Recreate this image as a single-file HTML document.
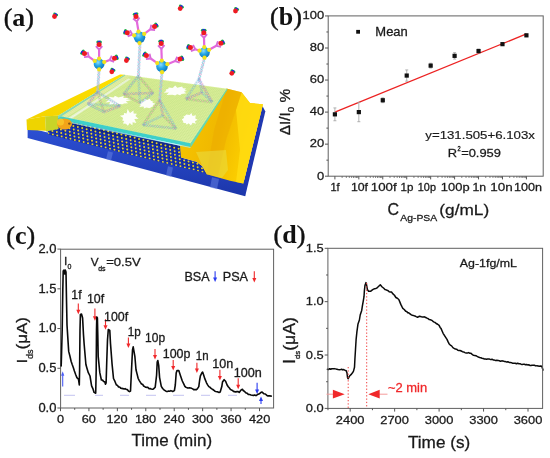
<!DOCTYPE html>
<html><head><meta charset="utf-8"><title>Figure</title>
<style>html,body{margin:0;padding:0;background:#fff;}svg{display:block;}</style></head>
<body><svg width="550" height="458" viewBox="0 0 550 458">
<rect width="550" height="458" fill="#ffffff"/>
<defs>
<linearGradient id="gBlueF" x1="0" y1="0" x2="0" y2="1"><stop offset="0" stop-color="#2d50d4"/><stop offset="1" stop-color="#1c36aa"/></linearGradient>
<linearGradient id="gGoldR" x1="0" y1="0" x2="1" y2="0.3"><stop offset="0" stop-color="#f8c800"/><stop offset="0.55" stop-color="#f0b800"/><stop offset="1" stop-color="#ffd400"/></linearGradient>
<linearGradient id="gGoldL" x1="0" y1="1" x2="1" y2="0"><stop offset="0" stop-color="#f4d400"/><stop offset="1" stop-color="#ffe000"/></linearGradient>
<linearGradient id="gGlass" x1="0" y1="0" x2="1" y2="1"><stop offset="0" stop-color="#e6f4a0"/><stop offset="0.5" stop-color="#dcf09a"/><stop offset="1" stop-color="#e2f2a6"/></linearGradient>
<radialGradient id="gSph" cx="0.4" cy="0.35" r="0.75"><stop offset="0" stop-color="#8adcff"/><stop offset="0.45" stop-color="#22a4e4"/><stop offset="1" stop-color="#0b6cb4"/></radialGradient>
<clipPath id="cDots"><polygon points="47,129 58.3,119 180.5,146.5 181.3,157.5 196.5,161.8 202.4,166.2 206.7,173.5 48.4,134.6"/></clipPath>
</defs>
<polygon points="243.0,184.5 262.5,106.0 265.3,111.5 245.2,196.3" fill="#2038b0"/>
<polygon points="27.6,127.5 244.5,181.8 245.2,196.3 27.6,137.9" fill="url(#gBlueF)"/>
<polygon points="108.0,151.2 113.0,152.4 111.0,160.6 106.0,159.2" fill="#6a86e6" opacity="0.5"/>
<polygon points="168.0,166.2 173.0,167.4 171.0,176.9 166.0,175.5" fill="#6a86e6" opacity="0.5"/>
<polygon points="212.0,177.2 219.0,178.9 217.0,189.3 210.0,187.4" fill="#6a86e6" opacity="0.5"/>
<polygon points="47.0,128.5 58.3,118.5 180.5,146.0 181.3,157.5 196.5,161.8 202.4,166.2 206.7,173.5 48.4,134.6" fill="#1a34b0"/>
<polygon points="58.3,118.5 180.5,146.0 180.5,150.5 58.3,123.0" fill="#10237e" opacity="0.65"/>
<g clip-path="url(#cDots)"><g fill="#0c1660" opacity="0.55"><circle cx="29.8" cy="129.4" r="1.0"/><circle cx="29.4" cy="125.9" r="1.0"/><circle cx="29.1" cy="122.4" r="1.0"/><circle cx="28.7" cy="118.9" r="1.0"/><circle cx="28.4" cy="115.4" r="1.0"/><circle cx="28.0" cy="111.9" r="1.0"/><circle cx="27.6" cy="108.4" r="1.0"/><circle cx="27.3" cy="104.9" r="1.0"/><circle cx="26.9" cy="101.4" r="1.0"/><circle cx="26.6" cy="97.9" r="1.0"/><circle cx="34.2" cy="130.5" r="1.0"/><circle cx="33.8" cy="127.0" r="1.0"/><circle cx="33.5" cy="123.5" r="1.0"/><circle cx="33.1" cy="120.0" r="1.0"/><circle cx="32.8" cy="116.5" r="1.0"/><circle cx="32.4" cy="113.0" r="1.0"/><circle cx="32.0" cy="109.5" r="1.0"/><circle cx="31.7" cy="106.0" r="1.0"/><circle cx="31.3" cy="102.5" r="1.0"/><circle cx="31.0" cy="99.0" r="1.0"/><circle cx="38.6" cy="131.6" r="1.0"/><circle cx="38.2" cy="128.1" r="1.0"/><circle cx="37.9" cy="124.6" r="1.0"/><circle cx="37.5" cy="121.1" r="1.0"/><circle cx="37.2" cy="117.6" r="1.0"/><circle cx="36.8" cy="114.1" r="1.0"/><circle cx="36.4" cy="110.6" r="1.0"/><circle cx="36.1" cy="107.1" r="1.0"/><circle cx="35.7" cy="103.6" r="1.0"/><circle cx="35.4" cy="100.1" r="1.0"/><circle cx="43.0" cy="132.7" r="1.0"/><circle cx="42.6" cy="129.2" r="1.0"/><circle cx="42.3" cy="125.7" r="1.0"/><circle cx="41.9" cy="122.2" r="1.0"/><circle cx="41.6" cy="118.7" r="1.0"/><circle cx="41.2" cy="115.2" r="1.0"/><circle cx="40.8" cy="111.7" r="1.0"/><circle cx="40.5" cy="108.2" r="1.0"/><circle cx="40.1" cy="104.7" r="1.0"/><circle cx="39.8" cy="101.2" r="1.0"/><circle cx="47.4" cy="133.8" r="1.0"/><circle cx="47.0" cy="130.3" r="1.0"/><circle cx="46.7" cy="126.8" r="1.0"/><circle cx="46.3" cy="123.3" r="1.0"/><circle cx="46.0" cy="119.8" r="1.0"/><circle cx="45.6" cy="116.3" r="1.0"/><circle cx="45.2" cy="112.8" r="1.0"/><circle cx="44.9" cy="109.3" r="1.0"/><circle cx="44.5" cy="105.8" r="1.0"/><circle cx="44.2" cy="102.3" r="1.0"/><circle cx="51.8" cy="134.9" r="1.0"/><circle cx="51.4" cy="131.4" r="1.0"/><circle cx="51.1" cy="127.9" r="1.0"/><circle cx="50.7" cy="124.4" r="1.0"/><circle cx="50.4" cy="120.9" r="1.0"/><circle cx="50.0" cy="117.4" r="1.0"/><circle cx="49.6" cy="113.9" r="1.0"/><circle cx="49.3" cy="110.4" r="1.0"/><circle cx="48.9" cy="106.9" r="1.0"/><circle cx="48.6" cy="103.4" r="1.0"/><circle cx="56.2" cy="136.0" r="1.0"/><circle cx="55.8" cy="132.5" r="1.0"/><circle cx="55.5" cy="129.0" r="1.0"/><circle cx="55.1" cy="125.5" r="1.0"/><circle cx="54.8" cy="122.0" r="1.0"/><circle cx="54.4" cy="118.5" r="1.0"/><circle cx="54.0" cy="115.0" r="1.0"/><circle cx="53.7" cy="111.5" r="1.0"/><circle cx="53.3" cy="108.0" r="1.0"/><circle cx="53.0" cy="104.5" r="1.0"/><circle cx="60.6" cy="137.1" r="1.0"/><circle cx="60.2" cy="133.6" r="1.0"/><circle cx="59.9" cy="130.1" r="1.0"/><circle cx="59.5" cy="126.6" r="1.0"/><circle cx="59.2" cy="123.1" r="1.0"/><circle cx="58.8" cy="119.6" r="1.0"/><circle cx="58.4" cy="116.1" r="1.0"/><circle cx="58.1" cy="112.6" r="1.0"/><circle cx="57.7" cy="109.1" r="1.0"/><circle cx="57.4" cy="105.6" r="1.0"/><circle cx="65.0" cy="138.2" r="1.0"/><circle cx="64.6" cy="134.7" r="1.0"/><circle cx="64.3" cy="131.2" r="1.0"/><circle cx="63.9" cy="127.7" r="1.0"/><circle cx="63.6" cy="124.2" r="1.0"/><circle cx="63.2" cy="120.7" r="1.0"/><circle cx="62.8" cy="117.2" r="1.0"/><circle cx="62.5" cy="113.7" r="1.0"/><circle cx="62.1" cy="110.2" r="1.0"/><circle cx="61.8" cy="106.7" r="1.0"/><circle cx="69.4" cy="139.3" r="1.0"/><circle cx="69.0" cy="135.8" r="1.0"/><circle cx="68.7" cy="132.3" r="1.0"/><circle cx="68.3" cy="128.8" r="1.0"/><circle cx="68.0" cy="125.3" r="1.0"/><circle cx="67.6" cy="121.8" r="1.0"/><circle cx="67.2" cy="118.3" r="1.0"/><circle cx="66.9" cy="114.8" r="1.0"/><circle cx="66.5" cy="111.3" r="1.0"/><circle cx="66.2" cy="107.8" r="1.0"/><circle cx="73.8" cy="140.4" r="1.0"/><circle cx="73.4" cy="136.9" r="1.0"/><circle cx="73.1" cy="133.4" r="1.0"/><circle cx="72.7" cy="129.9" r="1.0"/><circle cx="72.4" cy="126.4" r="1.0"/><circle cx="72.0" cy="122.9" r="1.0"/><circle cx="71.6" cy="119.4" r="1.0"/><circle cx="71.3" cy="115.9" r="1.0"/><circle cx="70.9" cy="112.4" r="1.0"/><circle cx="70.6" cy="108.9" r="1.0"/><circle cx="78.2" cy="141.5" r="1.0"/><circle cx="77.8" cy="138.0" r="1.0"/><circle cx="77.5" cy="134.5" r="1.0"/><circle cx="77.1" cy="131.0" r="1.0"/><circle cx="76.8" cy="127.5" r="1.0"/><circle cx="76.4" cy="124.0" r="1.0"/><circle cx="76.0" cy="120.5" r="1.0"/><circle cx="75.7" cy="117.0" r="1.0"/><circle cx="75.3" cy="113.5" r="1.0"/><circle cx="75.0" cy="110.0" r="1.0"/><circle cx="82.6" cy="142.6" r="1.0"/><circle cx="82.2" cy="139.1" r="1.0"/><circle cx="81.9" cy="135.6" r="1.0"/><circle cx="81.5" cy="132.1" r="1.0"/><circle cx="81.2" cy="128.6" r="1.0"/><circle cx="80.8" cy="125.1" r="1.0"/><circle cx="80.4" cy="121.6" r="1.0"/><circle cx="80.1" cy="118.1" r="1.0"/><circle cx="79.7" cy="114.6" r="1.0"/><circle cx="79.4" cy="111.1" r="1.0"/><circle cx="87.0" cy="143.7" r="1.0"/><circle cx="86.6" cy="140.2" r="1.0"/><circle cx="86.3" cy="136.7" r="1.0"/><circle cx="85.9" cy="133.2" r="1.0"/><circle cx="85.6" cy="129.7" r="1.0"/><circle cx="85.2" cy="126.2" r="1.0"/><circle cx="84.8" cy="122.7" r="1.0"/><circle cx="84.5" cy="119.2" r="1.0"/><circle cx="84.1" cy="115.7" r="1.0"/><circle cx="83.8" cy="112.2" r="1.0"/><circle cx="91.4" cy="144.8" r="1.0"/><circle cx="91.0" cy="141.3" r="1.0"/><circle cx="90.7" cy="137.8" r="1.0"/><circle cx="90.3" cy="134.3" r="1.0"/><circle cx="90.0" cy="130.8" r="1.0"/><circle cx="89.6" cy="127.3" r="1.0"/><circle cx="89.2" cy="123.8" r="1.0"/><circle cx="88.9" cy="120.3" r="1.0"/><circle cx="88.5" cy="116.8" r="1.0"/><circle cx="88.2" cy="113.3" r="1.0"/><circle cx="95.8" cy="145.9" r="1.0"/><circle cx="95.4" cy="142.4" r="1.0"/><circle cx="95.1" cy="138.9" r="1.0"/><circle cx="94.7" cy="135.4" r="1.0"/><circle cx="94.4" cy="131.9" r="1.0"/><circle cx="94.0" cy="128.4" r="1.0"/><circle cx="93.6" cy="124.9" r="1.0"/><circle cx="93.3" cy="121.4" r="1.0"/><circle cx="92.9" cy="117.9" r="1.0"/><circle cx="92.6" cy="114.4" r="1.0"/><circle cx="100.2" cy="147.0" r="1.0"/><circle cx="99.8" cy="143.5" r="1.0"/><circle cx="99.5" cy="140.0" r="1.0"/><circle cx="99.1" cy="136.5" r="1.0"/><circle cx="98.8" cy="133.0" r="1.0"/><circle cx="98.4" cy="129.5" r="1.0"/><circle cx="98.0" cy="126.0" r="1.0"/><circle cx="97.7" cy="122.5" r="1.0"/><circle cx="97.3" cy="119.0" r="1.0"/><circle cx="97.0" cy="115.5" r="1.0"/><circle cx="104.6" cy="148.1" r="1.0"/><circle cx="104.2" cy="144.6" r="1.0"/><circle cx="103.9" cy="141.1" r="1.0"/><circle cx="103.5" cy="137.6" r="1.0"/><circle cx="103.2" cy="134.1" r="1.0"/><circle cx="102.8" cy="130.6" r="1.0"/><circle cx="102.4" cy="127.1" r="1.0"/><circle cx="102.1" cy="123.6" r="1.0"/><circle cx="101.7" cy="120.1" r="1.0"/><circle cx="101.4" cy="116.6" r="1.0"/><circle cx="109.0" cy="149.2" r="1.0"/><circle cx="108.6" cy="145.7" r="1.0"/><circle cx="108.3" cy="142.2" r="1.0"/><circle cx="107.9" cy="138.7" r="1.0"/><circle cx="107.6" cy="135.2" r="1.0"/><circle cx="107.2" cy="131.7" r="1.0"/><circle cx="106.8" cy="128.2" r="1.0"/><circle cx="106.5" cy="124.7" r="1.0"/><circle cx="106.1" cy="121.2" r="1.0"/><circle cx="105.8" cy="117.7" r="1.0"/><circle cx="113.4" cy="150.3" r="1.0"/><circle cx="113.0" cy="146.8" r="1.0"/><circle cx="112.7" cy="143.3" r="1.0"/><circle cx="112.3" cy="139.8" r="1.0"/><circle cx="112.0" cy="136.3" r="1.0"/><circle cx="111.6" cy="132.8" r="1.0"/><circle cx="111.2" cy="129.3" r="1.0"/><circle cx="110.9" cy="125.8" r="1.0"/><circle cx="110.5" cy="122.3" r="1.0"/><circle cx="110.2" cy="118.8" r="1.0"/><circle cx="117.8" cy="151.4" r="1.0"/><circle cx="117.4" cy="147.9" r="1.0"/><circle cx="117.1" cy="144.4" r="1.0"/><circle cx="116.7" cy="140.9" r="1.0"/><circle cx="116.4" cy="137.4" r="1.0"/><circle cx="116.0" cy="133.9" r="1.0"/><circle cx="115.6" cy="130.4" r="1.0"/><circle cx="115.3" cy="126.9" r="1.0"/><circle cx="114.9" cy="123.4" r="1.0"/><circle cx="114.6" cy="119.9" r="1.0"/><circle cx="122.2" cy="152.5" r="1.0"/><circle cx="121.8" cy="149.0" r="1.0"/><circle cx="121.5" cy="145.5" r="1.0"/><circle cx="121.1" cy="142.0" r="1.0"/><circle cx="120.8" cy="138.5" r="1.0"/><circle cx="120.4" cy="135.0" r="1.0"/><circle cx="120.0" cy="131.5" r="1.0"/><circle cx="119.7" cy="128.0" r="1.0"/><circle cx="119.3" cy="124.5" r="1.0"/><circle cx="119.0" cy="121.0" r="1.0"/><circle cx="126.6" cy="153.6" r="1.0"/><circle cx="126.2" cy="150.1" r="1.0"/><circle cx="125.9" cy="146.6" r="1.0"/><circle cx="125.5" cy="143.1" r="1.0"/><circle cx="125.2" cy="139.6" r="1.0"/><circle cx="124.8" cy="136.1" r="1.0"/><circle cx="124.4" cy="132.6" r="1.0"/><circle cx="124.1" cy="129.1" r="1.0"/><circle cx="123.7" cy="125.6" r="1.0"/><circle cx="123.4" cy="122.1" r="1.0"/><circle cx="131.0" cy="154.7" r="1.0"/><circle cx="130.6" cy="151.2" r="1.0"/><circle cx="130.3" cy="147.7" r="1.0"/><circle cx="129.9" cy="144.2" r="1.0"/><circle cx="129.6" cy="140.7" r="1.0"/><circle cx="129.2" cy="137.2" r="1.0"/><circle cx="128.8" cy="133.7" r="1.0"/><circle cx="128.5" cy="130.2" r="1.0"/><circle cx="128.1" cy="126.7" r="1.0"/><circle cx="127.8" cy="123.2" r="1.0"/><circle cx="135.4" cy="155.8" r="1.0"/><circle cx="135.0" cy="152.3" r="1.0"/><circle cx="134.7" cy="148.8" r="1.0"/><circle cx="134.3" cy="145.3" r="1.0"/><circle cx="134.0" cy="141.8" r="1.0"/><circle cx="133.6" cy="138.3" r="1.0"/><circle cx="133.2" cy="134.8" r="1.0"/><circle cx="132.9" cy="131.3" r="1.0"/><circle cx="132.5" cy="127.8" r="1.0"/><circle cx="132.2" cy="124.3" r="1.0"/><circle cx="139.8" cy="156.9" r="1.0"/><circle cx="139.4" cy="153.4" r="1.0"/><circle cx="139.1" cy="149.9" r="1.0"/><circle cx="138.7" cy="146.4" r="1.0"/><circle cx="138.4" cy="142.9" r="1.0"/><circle cx="138.0" cy="139.4" r="1.0"/><circle cx="137.6" cy="135.9" r="1.0"/><circle cx="137.3" cy="132.4" r="1.0"/><circle cx="136.9" cy="128.9" r="1.0"/><circle cx="136.6" cy="125.4" r="1.0"/><circle cx="144.2" cy="158.0" r="1.0"/><circle cx="143.8" cy="154.5" r="1.0"/><circle cx="143.5" cy="151.0" r="1.0"/><circle cx="143.1" cy="147.5" r="1.0"/><circle cx="142.8" cy="144.0" r="1.0"/><circle cx="142.4" cy="140.5" r="1.0"/><circle cx="142.0" cy="137.0" r="1.0"/><circle cx="141.7" cy="133.5" r="1.0"/><circle cx="141.3" cy="130.0" r="1.0"/><circle cx="141.0" cy="126.5" r="1.0"/><circle cx="148.6" cy="159.1" r="1.0"/><circle cx="148.2" cy="155.6" r="1.0"/><circle cx="147.9" cy="152.1" r="1.0"/><circle cx="147.5" cy="148.6" r="1.0"/><circle cx="147.2" cy="145.1" r="1.0"/><circle cx="146.8" cy="141.6" r="1.0"/><circle cx="146.4" cy="138.1" r="1.0"/><circle cx="146.1" cy="134.6" r="1.0"/><circle cx="145.7" cy="131.1" r="1.0"/><circle cx="145.4" cy="127.6" r="1.0"/><circle cx="153.0" cy="160.2" r="1.0"/><circle cx="152.6" cy="156.7" r="1.0"/><circle cx="152.3" cy="153.2" r="1.0"/><circle cx="151.9" cy="149.7" r="1.0"/><circle cx="151.6" cy="146.2" r="1.0"/><circle cx="151.2" cy="142.7" r="1.0"/><circle cx="150.8" cy="139.2" r="1.0"/><circle cx="150.5" cy="135.7" r="1.0"/><circle cx="150.1" cy="132.2" r="1.0"/><circle cx="149.8" cy="128.7" r="1.0"/><circle cx="157.4" cy="161.3" r="1.0"/><circle cx="157.0" cy="157.8" r="1.0"/><circle cx="156.7" cy="154.3" r="1.0"/><circle cx="156.3" cy="150.8" r="1.0"/><circle cx="156.0" cy="147.3" r="1.0"/><circle cx="155.6" cy="143.8" r="1.0"/><circle cx="155.2" cy="140.3" r="1.0"/><circle cx="154.9" cy="136.8" r="1.0"/><circle cx="154.5" cy="133.3" r="1.0"/><circle cx="154.2" cy="129.8" r="1.0"/><circle cx="161.8" cy="162.4" r="1.0"/><circle cx="161.4" cy="158.9" r="1.0"/><circle cx="161.1" cy="155.4" r="1.0"/><circle cx="160.7" cy="151.9" r="1.0"/><circle cx="160.4" cy="148.4" r="1.0"/><circle cx="160.0" cy="144.9" r="1.0"/><circle cx="159.6" cy="141.4" r="1.0"/><circle cx="159.3" cy="137.9" r="1.0"/><circle cx="158.9" cy="134.4" r="1.0"/><circle cx="158.6" cy="130.9" r="1.0"/><circle cx="166.2" cy="163.5" r="1.0"/><circle cx="165.8" cy="160.0" r="1.0"/><circle cx="165.5" cy="156.5" r="1.0"/><circle cx="165.1" cy="153.0" r="1.0"/><circle cx="164.8" cy="149.5" r="1.0"/><circle cx="164.4" cy="146.0" r="1.0"/><circle cx="164.0" cy="142.5" r="1.0"/><circle cx="163.7" cy="139.0" r="1.0"/><circle cx="163.3" cy="135.5" r="1.0"/><circle cx="163.0" cy="132.0" r="1.0"/><circle cx="170.6" cy="164.6" r="1.0"/><circle cx="170.2" cy="161.1" r="1.0"/><circle cx="169.9" cy="157.6" r="1.0"/><circle cx="169.5" cy="154.1" r="1.0"/><circle cx="169.2" cy="150.6" r="1.0"/><circle cx="168.8" cy="147.1" r="1.0"/><circle cx="168.4" cy="143.6" r="1.0"/><circle cx="168.1" cy="140.1" r="1.0"/><circle cx="167.7" cy="136.6" r="1.0"/><circle cx="167.4" cy="133.1" r="1.0"/><circle cx="175.0" cy="165.7" r="1.0"/><circle cx="174.6" cy="162.2" r="1.0"/><circle cx="174.3" cy="158.7" r="1.0"/><circle cx="173.9" cy="155.2" r="1.0"/><circle cx="173.6" cy="151.7" r="1.0"/><circle cx="173.2" cy="148.2" r="1.0"/><circle cx="172.8" cy="144.7" r="1.0"/><circle cx="172.5" cy="141.2" r="1.0"/><circle cx="172.1" cy="137.7" r="1.0"/><circle cx="171.8" cy="134.2" r="1.0"/><circle cx="179.4" cy="166.8" r="1.0"/><circle cx="179.0" cy="163.3" r="1.0"/><circle cx="178.7" cy="159.8" r="1.0"/><circle cx="178.3" cy="156.3" r="1.0"/><circle cx="178.0" cy="152.8" r="1.0"/><circle cx="177.6" cy="149.3" r="1.0"/><circle cx="177.2" cy="145.8" r="1.0"/><circle cx="176.9" cy="142.3" r="1.0"/><circle cx="176.5" cy="138.8" r="1.0"/><circle cx="176.2" cy="135.3" r="1.0"/><circle cx="183.8" cy="167.9" r="1.0"/><circle cx="183.4" cy="164.4" r="1.0"/><circle cx="183.1" cy="160.9" r="1.0"/><circle cx="182.7" cy="157.4" r="1.0"/><circle cx="182.4" cy="153.9" r="1.0"/><circle cx="182.0" cy="150.4" r="1.0"/><circle cx="181.6" cy="146.9" r="1.0"/><circle cx="181.3" cy="143.4" r="1.0"/><circle cx="180.9" cy="139.9" r="1.0"/><circle cx="180.6" cy="136.4" r="1.0"/><circle cx="188.2" cy="169.0" r="1.0"/><circle cx="187.8" cy="165.5" r="1.0"/><circle cx="187.5" cy="162.0" r="1.0"/><circle cx="187.1" cy="158.5" r="1.0"/><circle cx="186.8" cy="155.0" r="1.0"/><circle cx="186.4" cy="151.5" r="1.0"/><circle cx="186.0" cy="148.0" r="1.0"/><circle cx="185.7" cy="144.5" r="1.0"/><circle cx="185.3" cy="141.0" r="1.0"/><circle cx="185.0" cy="137.5" r="1.0"/><circle cx="192.6" cy="170.1" r="1.0"/><circle cx="192.2" cy="166.6" r="1.0"/><circle cx="191.9" cy="163.1" r="1.0"/><circle cx="191.5" cy="159.6" r="1.0"/><circle cx="191.2" cy="156.1" r="1.0"/><circle cx="190.8" cy="152.6" r="1.0"/><circle cx="190.4" cy="149.1" r="1.0"/><circle cx="190.1" cy="145.6" r="1.0"/><circle cx="189.7" cy="142.1" r="1.0"/><circle cx="189.4" cy="138.6" r="1.0"/><circle cx="197.0" cy="171.2" r="1.0"/><circle cx="196.6" cy="167.7" r="1.0"/><circle cx="196.3" cy="164.2" r="1.0"/><circle cx="195.9" cy="160.7" r="1.0"/><circle cx="195.6" cy="157.2" r="1.0"/><circle cx="195.2" cy="153.7" r="1.0"/><circle cx="194.8" cy="150.2" r="1.0"/><circle cx="194.5" cy="146.7" r="1.0"/><circle cx="194.1" cy="143.2" r="1.0"/><circle cx="193.8" cy="139.7" r="1.0"/><circle cx="201.4" cy="172.3" r="1.0"/><circle cx="201.0" cy="168.8" r="1.0"/><circle cx="200.7" cy="165.3" r="1.0"/><circle cx="200.3" cy="161.8" r="1.0"/><circle cx="200.0" cy="158.3" r="1.0"/><circle cx="199.6" cy="154.8" r="1.0"/><circle cx="199.2" cy="151.3" r="1.0"/><circle cx="198.9" cy="147.8" r="1.0"/><circle cx="198.5" cy="144.3" r="1.0"/><circle cx="198.2" cy="140.8" r="1.0"/><circle cx="205.8" cy="173.4" r="1.0"/><circle cx="205.4" cy="169.9" r="1.0"/><circle cx="205.1" cy="166.4" r="1.0"/><circle cx="204.7" cy="162.9" r="1.0"/><circle cx="204.4" cy="159.4" r="1.0"/><circle cx="204.0" cy="155.9" r="1.0"/><circle cx="203.6" cy="152.4" r="1.0"/><circle cx="203.3" cy="148.9" r="1.0"/><circle cx="202.9" cy="145.4" r="1.0"/><circle cx="202.6" cy="141.9" r="1.0"/><circle cx="210.2" cy="174.5" r="1.0"/><circle cx="209.8" cy="171.0" r="1.0"/><circle cx="209.5" cy="167.5" r="1.0"/><circle cx="209.1" cy="164.0" r="1.0"/><circle cx="208.8" cy="160.5" r="1.0"/><circle cx="208.4" cy="157.0" r="1.0"/><circle cx="208.0" cy="153.5" r="1.0"/><circle cx="207.7" cy="150.0" r="1.0"/><circle cx="207.3" cy="146.5" r="1.0"/><circle cx="207.0" cy="143.0" r="1.0"/><circle cx="214.6" cy="175.6" r="1.0"/><circle cx="214.2" cy="172.1" r="1.0"/><circle cx="213.9" cy="168.6" r="1.0"/><circle cx="213.5" cy="165.1" r="1.0"/><circle cx="213.2" cy="161.6" r="1.0"/><circle cx="212.8" cy="158.1" r="1.0"/><circle cx="212.4" cy="154.6" r="1.0"/><circle cx="212.1" cy="151.1" r="1.0"/><circle cx="211.7" cy="147.6" r="1.0"/><circle cx="211.4" cy="144.1" r="1.0"/><circle cx="219.0" cy="176.7" r="1.0"/><circle cx="218.6" cy="173.2" r="1.0"/><circle cx="218.3" cy="169.7" r="1.0"/><circle cx="217.9" cy="166.2" r="1.0"/><circle cx="217.6" cy="162.7" r="1.0"/><circle cx="217.2" cy="159.2" r="1.0"/><circle cx="216.8" cy="155.7" r="1.0"/><circle cx="216.5" cy="152.2" r="1.0"/><circle cx="216.1" cy="148.7" r="1.0"/><circle cx="215.8" cy="145.2" r="1.0"/><circle cx="223.4" cy="177.8" r="1.0"/><circle cx="223.0" cy="174.3" r="1.0"/><circle cx="222.7" cy="170.8" r="1.0"/><circle cx="222.3" cy="167.3" r="1.0"/><circle cx="222.0" cy="163.8" r="1.0"/><circle cx="221.6" cy="160.3" r="1.0"/><circle cx="221.2" cy="156.8" r="1.0"/><circle cx="220.9" cy="153.3" r="1.0"/><circle cx="220.5" cy="149.8" r="1.0"/><circle cx="220.2" cy="146.3" r="1.0"/><circle cx="227.8" cy="178.9" r="1.0"/><circle cx="227.4" cy="175.4" r="1.0"/><circle cx="227.1" cy="171.9" r="1.0"/><circle cx="226.7" cy="168.4" r="1.0"/><circle cx="226.4" cy="164.9" r="1.0"/><circle cx="226.0" cy="161.4" r="1.0"/><circle cx="225.6" cy="157.9" r="1.0"/><circle cx="225.3" cy="154.4" r="1.0"/><circle cx="224.9" cy="150.9" r="1.0"/><circle cx="224.6" cy="147.4" r="1.0"/><circle cx="232.2" cy="180.0" r="1.0"/><circle cx="231.8" cy="176.5" r="1.0"/><circle cx="231.5" cy="173.0" r="1.0"/><circle cx="231.1" cy="169.5" r="1.0"/><circle cx="230.8" cy="166.0" r="1.0"/><circle cx="230.4" cy="162.5" r="1.0"/><circle cx="230.0" cy="159.0" r="1.0"/><circle cx="229.7" cy="155.5" r="1.0"/><circle cx="229.3" cy="152.0" r="1.0"/><circle cx="229.0" cy="148.5" r="1.0"/><circle cx="236.6" cy="181.1" r="1.0"/><circle cx="236.2" cy="177.6" r="1.0"/><circle cx="235.9" cy="174.1" r="1.0"/><circle cx="235.5" cy="170.6" r="1.0"/><circle cx="235.2" cy="167.1" r="1.0"/><circle cx="234.8" cy="163.6" r="1.0"/><circle cx="234.4" cy="160.1" r="1.0"/><circle cx="234.1" cy="156.6" r="1.0"/><circle cx="233.7" cy="153.1" r="1.0"/><circle cx="233.4" cy="149.6" r="1.0"/></g><g fill="#e8d428"><circle cx="30.8" cy="128.9" r="1.0"/><circle cx="30.4" cy="125.4" r="1.0"/><circle cx="30.1" cy="121.9" r="1.0"/><circle cx="29.7" cy="118.4" r="1.0"/><circle cx="29.4" cy="114.9" r="1.0"/><circle cx="29.0" cy="111.4" r="1.0"/><circle cx="28.6" cy="107.9" r="1.0"/><circle cx="28.3" cy="104.4" r="1.0"/><circle cx="27.9" cy="100.9" r="1.0"/><circle cx="27.6" cy="97.4" r="1.0"/><circle cx="35.2" cy="130.0" r="1.0"/><circle cx="34.8" cy="126.5" r="1.0"/><circle cx="34.5" cy="123.0" r="1.0"/><circle cx="34.1" cy="119.5" r="1.0"/><circle cx="33.8" cy="116.0" r="1.0"/><circle cx="33.4" cy="112.5" r="1.0"/><circle cx="33.0" cy="109.0" r="1.0"/><circle cx="32.7" cy="105.5" r="1.0"/><circle cx="32.3" cy="102.0" r="1.0"/><circle cx="32.0" cy="98.5" r="1.0"/><circle cx="39.6" cy="131.1" r="1.0"/><circle cx="39.2" cy="127.6" r="1.0"/><circle cx="38.9" cy="124.1" r="1.0"/><circle cx="38.5" cy="120.6" r="1.0"/><circle cx="38.2" cy="117.1" r="1.0"/><circle cx="37.8" cy="113.6" r="1.0"/><circle cx="37.4" cy="110.1" r="1.0"/><circle cx="37.1" cy="106.6" r="1.0"/><circle cx="36.7" cy="103.1" r="1.0"/><circle cx="36.4" cy="99.6" r="1.0"/><circle cx="44.0" cy="132.2" r="1.0"/><circle cx="43.6" cy="128.7" r="1.0"/><circle cx="43.3" cy="125.2" r="1.0"/><circle cx="42.9" cy="121.7" r="1.0"/><circle cx="42.6" cy="118.2" r="1.0"/><circle cx="42.2" cy="114.7" r="1.0"/><circle cx="41.8" cy="111.2" r="1.0"/><circle cx="41.5" cy="107.7" r="1.0"/><circle cx="41.1" cy="104.2" r="1.0"/><circle cx="40.8" cy="100.7" r="1.0"/><circle cx="48.4" cy="133.3" r="1.0"/><circle cx="48.0" cy="129.8" r="1.0"/><circle cx="47.7" cy="126.3" r="1.0"/><circle cx="47.3" cy="122.8" r="1.0"/><circle cx="47.0" cy="119.3" r="1.0"/><circle cx="46.6" cy="115.8" r="1.0"/><circle cx="46.2" cy="112.3" r="1.0"/><circle cx="45.9" cy="108.8" r="1.0"/><circle cx="45.5" cy="105.3" r="1.0"/><circle cx="45.2" cy="101.8" r="1.0"/><circle cx="52.8" cy="134.4" r="1.0"/><circle cx="52.4" cy="130.9" r="1.0"/><circle cx="52.1" cy="127.4" r="1.0"/><circle cx="51.7" cy="123.9" r="1.0"/><circle cx="51.4" cy="120.4" r="1.0"/><circle cx="51.0" cy="116.9" r="1.0"/><circle cx="50.6" cy="113.4" r="1.0"/><circle cx="50.3" cy="109.9" r="1.0"/><circle cx="49.9" cy="106.4" r="1.0"/><circle cx="49.6" cy="102.9" r="1.0"/><circle cx="57.2" cy="135.5" r="1.0"/><circle cx="56.8" cy="132.0" r="1.0"/><circle cx="56.5" cy="128.5" r="1.0"/><circle cx="56.1" cy="125.0" r="1.0"/><circle cx="55.8" cy="121.5" r="1.0"/><circle cx="55.4" cy="118.0" r="1.0"/><circle cx="55.0" cy="114.5" r="1.0"/><circle cx="54.7" cy="111.0" r="1.0"/><circle cx="54.3" cy="107.5" r="1.0"/><circle cx="54.0" cy="104.0" r="1.0"/><circle cx="61.6" cy="136.6" r="1.0"/><circle cx="61.2" cy="133.1" r="1.0"/><circle cx="60.9" cy="129.6" r="1.0"/><circle cx="60.5" cy="126.1" r="1.0"/><circle cx="60.2" cy="122.6" r="1.0"/><circle cx="59.8" cy="119.1" r="1.0"/><circle cx="59.4" cy="115.6" r="1.0"/><circle cx="59.1" cy="112.1" r="1.0"/><circle cx="58.7" cy="108.6" r="1.0"/><circle cx="58.4" cy="105.1" r="1.0"/><circle cx="66.0" cy="137.7" r="1.0"/><circle cx="65.6" cy="134.2" r="1.0"/><circle cx="65.3" cy="130.7" r="1.0"/><circle cx="64.9" cy="127.2" r="1.0"/><circle cx="64.6" cy="123.7" r="1.0"/><circle cx="64.2" cy="120.2" r="1.0"/><circle cx="63.8" cy="116.7" r="1.0"/><circle cx="63.5" cy="113.2" r="1.0"/><circle cx="63.1" cy="109.7" r="1.0"/><circle cx="62.8" cy="106.2" r="1.0"/><circle cx="70.4" cy="138.8" r="1.0"/><circle cx="70.0" cy="135.3" r="1.0"/><circle cx="69.7" cy="131.8" r="1.0"/><circle cx="69.3" cy="128.3" r="1.0"/><circle cx="69.0" cy="124.8" r="1.0"/><circle cx="68.6" cy="121.3" r="1.0"/><circle cx="68.2" cy="117.8" r="1.0"/><circle cx="67.9" cy="114.3" r="1.0"/><circle cx="67.5" cy="110.8" r="1.0"/><circle cx="67.2" cy="107.3" r="1.0"/><circle cx="74.8" cy="139.9" r="1.0"/><circle cx="74.4" cy="136.4" r="1.0"/><circle cx="74.1" cy="132.9" r="1.0"/><circle cx="73.7" cy="129.4" r="1.0"/><circle cx="73.4" cy="125.9" r="1.0"/><circle cx="73.0" cy="122.4" r="1.0"/><circle cx="72.6" cy="118.9" r="1.0"/><circle cx="72.3" cy="115.4" r="1.0"/><circle cx="71.9" cy="111.9" r="1.0"/><circle cx="71.6" cy="108.4" r="1.0"/><circle cx="79.2" cy="141.0" r="1.0"/><circle cx="78.8" cy="137.5" r="1.0"/><circle cx="78.5" cy="134.0" r="1.0"/><circle cx="78.1" cy="130.5" r="1.0"/><circle cx="77.8" cy="127.0" r="1.0"/><circle cx="77.4" cy="123.5" r="1.0"/><circle cx="77.0" cy="120.0" r="1.0"/><circle cx="76.7" cy="116.5" r="1.0"/><circle cx="76.3" cy="113.0" r="1.0"/><circle cx="76.0" cy="109.5" r="1.0"/><circle cx="83.6" cy="142.1" r="1.0"/><circle cx="83.2" cy="138.6" r="1.0"/><circle cx="82.9" cy="135.1" r="1.0"/><circle cx="82.5" cy="131.6" r="1.0"/><circle cx="82.2" cy="128.1" r="1.0"/><circle cx="81.8" cy="124.6" r="1.0"/><circle cx="81.4" cy="121.1" r="1.0"/><circle cx="81.1" cy="117.6" r="1.0"/><circle cx="80.7" cy="114.1" r="1.0"/><circle cx="80.4" cy="110.6" r="1.0"/><circle cx="88.0" cy="143.2" r="1.0"/><circle cx="87.6" cy="139.7" r="1.0"/><circle cx="87.3" cy="136.2" r="1.0"/><circle cx="86.9" cy="132.7" r="1.0"/><circle cx="86.6" cy="129.2" r="1.0"/><circle cx="86.2" cy="125.7" r="1.0"/><circle cx="85.8" cy="122.2" r="1.0"/><circle cx="85.5" cy="118.7" r="1.0"/><circle cx="85.1" cy="115.2" r="1.0"/><circle cx="84.8" cy="111.7" r="1.0"/><circle cx="92.4" cy="144.3" r="1.0"/><circle cx="92.0" cy="140.8" r="1.0"/><circle cx="91.7" cy="137.3" r="1.0"/><circle cx="91.3" cy="133.8" r="1.0"/><circle cx="91.0" cy="130.3" r="1.0"/><circle cx="90.6" cy="126.8" r="1.0"/><circle cx="90.2" cy="123.3" r="1.0"/><circle cx="89.9" cy="119.8" r="1.0"/><circle cx="89.5" cy="116.3" r="1.0"/><circle cx="89.2" cy="112.8" r="1.0"/><circle cx="96.8" cy="145.4" r="1.0"/><circle cx="96.4" cy="141.9" r="1.0"/><circle cx="96.1" cy="138.4" r="1.0"/><circle cx="95.7" cy="134.9" r="1.0"/><circle cx="95.4" cy="131.4" r="1.0"/><circle cx="95.0" cy="127.9" r="1.0"/><circle cx="94.6" cy="124.4" r="1.0"/><circle cx="94.3" cy="120.9" r="1.0"/><circle cx="93.9" cy="117.4" r="1.0"/><circle cx="93.6" cy="113.9" r="1.0"/><circle cx="101.2" cy="146.5" r="1.0"/><circle cx="100.8" cy="143.0" r="1.0"/><circle cx="100.5" cy="139.5" r="1.0"/><circle cx="100.1" cy="136.0" r="1.0"/><circle cx="99.8" cy="132.5" r="1.0"/><circle cx="99.4" cy="129.0" r="1.0"/><circle cx="99.0" cy="125.5" r="1.0"/><circle cx="98.7" cy="122.0" r="1.0"/><circle cx="98.3" cy="118.5" r="1.0"/><circle cx="98.0" cy="115.0" r="1.0"/><circle cx="105.6" cy="147.6" r="1.0"/><circle cx="105.2" cy="144.1" r="1.0"/><circle cx="104.9" cy="140.6" r="1.0"/><circle cx="104.5" cy="137.1" r="1.0"/><circle cx="104.2" cy="133.6" r="1.0"/><circle cx="103.8" cy="130.1" r="1.0"/><circle cx="103.4" cy="126.6" r="1.0"/><circle cx="103.1" cy="123.1" r="1.0"/><circle cx="102.7" cy="119.6" r="1.0"/><circle cx="102.4" cy="116.1" r="1.0"/><circle cx="110.0" cy="148.7" r="1.0"/><circle cx="109.6" cy="145.2" r="1.0"/><circle cx="109.3" cy="141.7" r="1.0"/><circle cx="108.9" cy="138.2" r="1.0"/><circle cx="108.6" cy="134.7" r="1.0"/><circle cx="108.2" cy="131.2" r="1.0"/><circle cx="107.8" cy="127.7" r="1.0"/><circle cx="107.5" cy="124.2" r="1.0"/><circle cx="107.1" cy="120.7" r="1.0"/><circle cx="106.8" cy="117.2" r="1.0"/><circle cx="114.4" cy="149.8" r="1.0"/><circle cx="114.0" cy="146.3" r="1.0"/><circle cx="113.7" cy="142.8" r="1.0"/><circle cx="113.3" cy="139.3" r="1.0"/><circle cx="113.0" cy="135.8" r="1.0"/><circle cx="112.6" cy="132.3" r="1.0"/><circle cx="112.2" cy="128.8" r="1.0"/><circle cx="111.9" cy="125.3" r="1.0"/><circle cx="111.5" cy="121.8" r="1.0"/><circle cx="111.2" cy="118.3" r="1.0"/><circle cx="118.8" cy="150.9" r="1.0"/><circle cx="118.4" cy="147.4" r="1.0"/><circle cx="118.1" cy="143.9" r="1.0"/><circle cx="117.7" cy="140.4" r="1.0"/><circle cx="117.4" cy="136.9" r="1.0"/><circle cx="117.0" cy="133.4" r="1.0"/><circle cx="116.6" cy="129.9" r="1.0"/><circle cx="116.3" cy="126.4" r="1.0"/><circle cx="115.9" cy="122.9" r="1.0"/><circle cx="115.6" cy="119.4" r="1.0"/><circle cx="123.2" cy="152.0" r="1.0"/><circle cx="122.8" cy="148.5" r="1.0"/><circle cx="122.5" cy="145.0" r="1.0"/><circle cx="122.1" cy="141.5" r="1.0"/><circle cx="121.8" cy="138.0" r="1.0"/><circle cx="121.4" cy="134.5" r="1.0"/><circle cx="121.0" cy="131.0" r="1.0"/><circle cx="120.7" cy="127.5" r="1.0"/><circle cx="120.3" cy="124.0" r="1.0"/><circle cx="120.0" cy="120.5" r="1.0"/><circle cx="127.6" cy="153.1" r="1.0"/><circle cx="127.2" cy="149.6" r="1.0"/><circle cx="126.9" cy="146.1" r="1.0"/><circle cx="126.5" cy="142.6" r="1.0"/><circle cx="126.2" cy="139.1" r="1.0"/><circle cx="125.8" cy="135.6" r="1.0"/><circle cx="125.4" cy="132.1" r="1.0"/><circle cx="125.1" cy="128.6" r="1.0"/><circle cx="124.7" cy="125.1" r="1.0"/><circle cx="124.4" cy="121.6" r="1.0"/><circle cx="132.0" cy="154.2" r="1.0"/><circle cx="131.6" cy="150.7" r="1.0"/><circle cx="131.3" cy="147.2" r="1.0"/><circle cx="130.9" cy="143.7" r="1.0"/><circle cx="130.6" cy="140.2" r="1.0"/><circle cx="130.2" cy="136.7" r="1.0"/><circle cx="129.8" cy="133.2" r="1.0"/><circle cx="129.5" cy="129.7" r="1.0"/><circle cx="129.1" cy="126.2" r="1.0"/><circle cx="128.8" cy="122.7" r="1.0"/><circle cx="136.4" cy="155.3" r="1.0"/><circle cx="136.0" cy="151.8" r="1.0"/><circle cx="135.7" cy="148.3" r="1.0"/><circle cx="135.3" cy="144.8" r="1.0"/><circle cx="135.0" cy="141.3" r="1.0"/><circle cx="134.6" cy="137.8" r="1.0"/><circle cx="134.2" cy="134.3" r="1.0"/><circle cx="133.9" cy="130.8" r="1.0"/><circle cx="133.5" cy="127.3" r="1.0"/><circle cx="133.2" cy="123.8" r="1.0"/><circle cx="140.8" cy="156.4" r="1.0"/><circle cx="140.4" cy="152.9" r="1.0"/><circle cx="140.1" cy="149.4" r="1.0"/><circle cx="139.7" cy="145.9" r="1.0"/><circle cx="139.4" cy="142.4" r="1.0"/><circle cx="139.0" cy="138.9" r="1.0"/><circle cx="138.6" cy="135.4" r="1.0"/><circle cx="138.3" cy="131.9" r="1.0"/><circle cx="137.9" cy="128.4" r="1.0"/><circle cx="137.6" cy="124.9" r="1.0"/><circle cx="145.2" cy="157.5" r="1.0"/><circle cx="144.8" cy="154.0" r="1.0"/><circle cx="144.5" cy="150.5" r="1.0"/><circle cx="144.1" cy="147.0" r="1.0"/><circle cx="143.8" cy="143.5" r="1.0"/><circle cx="143.4" cy="140.0" r="1.0"/><circle cx="143.0" cy="136.5" r="1.0"/><circle cx="142.7" cy="133.0" r="1.0"/><circle cx="142.3" cy="129.5" r="1.0"/><circle cx="142.0" cy="126.0" r="1.0"/><circle cx="149.6" cy="158.6" r="1.0"/><circle cx="149.2" cy="155.1" r="1.0"/><circle cx="148.9" cy="151.6" r="1.0"/><circle cx="148.5" cy="148.1" r="1.0"/><circle cx="148.2" cy="144.6" r="1.0"/><circle cx="147.8" cy="141.1" r="1.0"/><circle cx="147.4" cy="137.6" r="1.0"/><circle cx="147.1" cy="134.1" r="1.0"/><circle cx="146.7" cy="130.6" r="1.0"/><circle cx="146.4" cy="127.1" r="1.0"/><circle cx="154.0" cy="159.7" r="1.0"/><circle cx="153.6" cy="156.2" r="1.0"/><circle cx="153.3" cy="152.7" r="1.0"/><circle cx="152.9" cy="149.2" r="1.0"/><circle cx="152.6" cy="145.7" r="1.0"/><circle cx="152.2" cy="142.2" r="1.0"/><circle cx="151.8" cy="138.7" r="1.0"/><circle cx="151.5" cy="135.2" r="1.0"/><circle cx="151.1" cy="131.7" r="1.0"/><circle cx="150.8" cy="128.2" r="1.0"/><circle cx="158.4" cy="160.8" r="1.0"/><circle cx="158.0" cy="157.3" r="1.0"/><circle cx="157.7" cy="153.8" r="1.0"/><circle cx="157.3" cy="150.3" r="1.0"/><circle cx="157.0" cy="146.8" r="1.0"/><circle cx="156.6" cy="143.3" r="1.0"/><circle cx="156.2" cy="139.8" r="1.0"/><circle cx="155.9" cy="136.3" r="1.0"/><circle cx="155.5" cy="132.8" r="1.0"/><circle cx="155.2" cy="129.3" r="1.0"/><circle cx="162.8" cy="161.9" r="1.0"/><circle cx="162.4" cy="158.4" r="1.0"/><circle cx="162.1" cy="154.9" r="1.0"/><circle cx="161.7" cy="151.4" r="1.0"/><circle cx="161.4" cy="147.9" r="1.0"/><circle cx="161.0" cy="144.4" r="1.0"/><circle cx="160.6" cy="140.9" r="1.0"/><circle cx="160.3" cy="137.4" r="1.0"/><circle cx="159.9" cy="133.9" r="1.0"/><circle cx="159.6" cy="130.4" r="1.0"/><circle cx="167.2" cy="163.0" r="1.0"/><circle cx="166.8" cy="159.5" r="1.0"/><circle cx="166.5" cy="156.0" r="1.0"/><circle cx="166.1" cy="152.5" r="1.0"/><circle cx="165.8" cy="149.0" r="1.0"/><circle cx="165.4" cy="145.5" r="1.0"/><circle cx="165.0" cy="142.0" r="1.0"/><circle cx="164.7" cy="138.5" r="1.0"/><circle cx="164.3" cy="135.0" r="1.0"/><circle cx="164.0" cy="131.5" r="1.0"/><circle cx="171.6" cy="164.1" r="1.0"/><circle cx="171.2" cy="160.6" r="1.0"/><circle cx="170.9" cy="157.1" r="1.0"/><circle cx="170.5" cy="153.6" r="1.0"/><circle cx="170.2" cy="150.1" r="1.0"/><circle cx="169.8" cy="146.6" r="1.0"/><circle cx="169.4" cy="143.1" r="1.0"/><circle cx="169.1" cy="139.6" r="1.0"/><circle cx="168.7" cy="136.1" r="1.0"/><circle cx="168.4" cy="132.6" r="1.0"/><circle cx="176.0" cy="165.2" r="1.0"/><circle cx="175.6" cy="161.7" r="1.0"/><circle cx="175.3" cy="158.2" r="1.0"/><circle cx="174.9" cy="154.7" r="1.0"/><circle cx="174.6" cy="151.2" r="1.0"/><circle cx="174.2" cy="147.7" r="1.0"/><circle cx="173.8" cy="144.2" r="1.0"/><circle cx="173.5" cy="140.7" r="1.0"/><circle cx="173.1" cy="137.2" r="1.0"/><circle cx="172.8" cy="133.7" r="1.0"/><circle cx="180.4" cy="166.3" r="1.0"/><circle cx="180.0" cy="162.8" r="1.0"/><circle cx="179.7" cy="159.3" r="1.0"/><circle cx="179.3" cy="155.8" r="1.0"/><circle cx="179.0" cy="152.3" r="1.0"/><circle cx="178.6" cy="148.8" r="1.0"/><circle cx="178.2" cy="145.3" r="1.0"/><circle cx="177.9" cy="141.8" r="1.0"/><circle cx="177.5" cy="138.3" r="1.0"/><circle cx="177.2" cy="134.8" r="1.0"/><circle cx="184.8" cy="167.4" r="1.0"/><circle cx="184.4" cy="163.9" r="1.0"/><circle cx="184.1" cy="160.4" r="1.0"/><circle cx="183.7" cy="156.9" r="1.0"/><circle cx="183.4" cy="153.4" r="1.0"/><circle cx="183.0" cy="149.9" r="1.0"/><circle cx="182.6" cy="146.4" r="1.0"/><circle cx="182.3" cy="142.9" r="1.0"/><circle cx="181.9" cy="139.4" r="1.0"/><circle cx="181.6" cy="135.9" r="1.0"/><circle cx="189.2" cy="168.5" r="1.0"/><circle cx="188.8" cy="165.0" r="1.0"/><circle cx="188.5" cy="161.5" r="1.0"/><circle cx="188.1" cy="158.0" r="1.0"/><circle cx="187.8" cy="154.5" r="1.0"/><circle cx="187.4" cy="151.0" r="1.0"/><circle cx="187.0" cy="147.5" r="1.0"/><circle cx="186.7" cy="144.0" r="1.0"/><circle cx="186.3" cy="140.5" r="1.0"/><circle cx="186.0" cy="137.0" r="1.0"/><circle cx="193.6" cy="169.6" r="1.0"/><circle cx="193.2" cy="166.1" r="1.0"/><circle cx="192.9" cy="162.6" r="1.0"/><circle cx="192.5" cy="159.1" r="1.0"/><circle cx="192.2" cy="155.6" r="1.0"/><circle cx="191.8" cy="152.1" r="1.0"/><circle cx="191.4" cy="148.6" r="1.0"/><circle cx="191.1" cy="145.1" r="1.0"/><circle cx="190.7" cy="141.6" r="1.0"/><circle cx="190.4" cy="138.1" r="1.0"/><circle cx="198.0" cy="170.7" r="1.0"/><circle cx="197.6" cy="167.2" r="1.0"/><circle cx="197.3" cy="163.7" r="1.0"/><circle cx="196.9" cy="160.2" r="1.0"/><circle cx="196.6" cy="156.7" r="1.0"/><circle cx="196.2" cy="153.2" r="1.0"/><circle cx="195.8" cy="149.7" r="1.0"/><circle cx="195.5" cy="146.2" r="1.0"/><circle cx="195.1" cy="142.7" r="1.0"/><circle cx="194.8" cy="139.2" r="1.0"/><circle cx="202.4" cy="171.8" r="1.0"/><circle cx="202.0" cy="168.3" r="1.0"/><circle cx="201.7" cy="164.8" r="1.0"/><circle cx="201.3" cy="161.3" r="1.0"/><circle cx="201.0" cy="157.8" r="1.0"/><circle cx="200.6" cy="154.3" r="1.0"/><circle cx="200.2" cy="150.8" r="1.0"/><circle cx="199.9" cy="147.3" r="1.0"/><circle cx="199.5" cy="143.8" r="1.0"/><circle cx="199.2" cy="140.3" r="1.0"/><circle cx="206.8" cy="172.9" r="1.0"/><circle cx="206.4" cy="169.4" r="1.0"/><circle cx="206.1" cy="165.9" r="1.0"/><circle cx="205.7" cy="162.4" r="1.0"/><circle cx="205.4" cy="158.9" r="1.0"/><circle cx="205.0" cy="155.4" r="1.0"/><circle cx="204.6" cy="151.9" r="1.0"/><circle cx="204.3" cy="148.4" r="1.0"/><circle cx="203.9" cy="144.9" r="1.0"/><circle cx="203.6" cy="141.4" r="1.0"/><circle cx="211.2" cy="174.0" r="1.0"/><circle cx="210.8" cy="170.5" r="1.0"/><circle cx="210.5" cy="167.0" r="1.0"/><circle cx="210.1" cy="163.5" r="1.0"/><circle cx="209.8" cy="160.0" r="1.0"/><circle cx="209.4" cy="156.5" r="1.0"/><circle cx="209.0" cy="153.0" r="1.0"/><circle cx="208.7" cy="149.5" r="1.0"/><circle cx="208.3" cy="146.0" r="1.0"/><circle cx="208.0" cy="142.5" r="1.0"/><circle cx="215.6" cy="175.1" r="1.0"/><circle cx="215.2" cy="171.6" r="1.0"/><circle cx="214.9" cy="168.1" r="1.0"/><circle cx="214.5" cy="164.6" r="1.0"/><circle cx="214.2" cy="161.1" r="1.0"/><circle cx="213.8" cy="157.6" r="1.0"/><circle cx="213.4" cy="154.1" r="1.0"/><circle cx="213.1" cy="150.6" r="1.0"/><circle cx="212.7" cy="147.1" r="1.0"/><circle cx="212.4" cy="143.6" r="1.0"/><circle cx="220.0" cy="176.2" r="1.0"/><circle cx="219.6" cy="172.7" r="1.0"/><circle cx="219.3" cy="169.2" r="1.0"/><circle cx="218.9" cy="165.7" r="1.0"/><circle cx="218.6" cy="162.2" r="1.0"/><circle cx="218.2" cy="158.7" r="1.0"/><circle cx="217.8" cy="155.2" r="1.0"/><circle cx="217.5" cy="151.7" r="1.0"/><circle cx="217.1" cy="148.2" r="1.0"/><circle cx="216.8" cy="144.7" r="1.0"/><circle cx="224.4" cy="177.3" r="1.0"/><circle cx="224.0" cy="173.8" r="1.0"/><circle cx="223.7" cy="170.3" r="1.0"/><circle cx="223.3" cy="166.8" r="1.0"/><circle cx="223.0" cy="163.3" r="1.0"/><circle cx="222.6" cy="159.8" r="1.0"/><circle cx="222.2" cy="156.3" r="1.0"/><circle cx="221.9" cy="152.8" r="1.0"/><circle cx="221.5" cy="149.3" r="1.0"/><circle cx="221.2" cy="145.8" r="1.0"/><circle cx="228.8" cy="178.4" r="1.0"/><circle cx="228.4" cy="174.9" r="1.0"/><circle cx="228.1" cy="171.4" r="1.0"/><circle cx="227.7" cy="167.9" r="1.0"/><circle cx="227.4" cy="164.4" r="1.0"/><circle cx="227.0" cy="160.9" r="1.0"/><circle cx="226.6" cy="157.4" r="1.0"/><circle cx="226.3" cy="153.9" r="1.0"/><circle cx="225.9" cy="150.4" r="1.0"/><circle cx="225.6" cy="146.9" r="1.0"/><circle cx="233.2" cy="179.5" r="1.0"/><circle cx="232.8" cy="176.0" r="1.0"/><circle cx="232.5" cy="172.5" r="1.0"/><circle cx="232.1" cy="169.0" r="1.0"/><circle cx="231.8" cy="165.5" r="1.0"/><circle cx="231.4" cy="162.0" r="1.0"/><circle cx="231.0" cy="158.5" r="1.0"/><circle cx="230.7" cy="155.0" r="1.0"/><circle cx="230.3" cy="151.5" r="1.0"/><circle cx="230.0" cy="148.0" r="1.0"/><circle cx="237.6" cy="180.6" r="1.0"/><circle cx="237.2" cy="177.1" r="1.0"/><circle cx="236.9" cy="173.6" r="1.0"/><circle cx="236.5" cy="170.1" r="1.0"/><circle cx="236.2" cy="166.6" r="1.0"/><circle cx="235.8" cy="163.1" r="1.0"/><circle cx="235.4" cy="159.6" r="1.0"/><circle cx="235.1" cy="156.1" r="1.0"/><circle cx="234.7" cy="152.6" r="1.0"/><circle cx="234.4" cy="149.1" r="1.0"/></g></g>
<polygon points="180.0,145.5 190.5,143.5 207.3,120.0 226.5,88.5 241.6,92.2 250.0,103.0 263.0,104.3 243.3,183.6 230.0,180.7 206.7,174.2 202.4,166.2 196.5,161.8 181.0,157.5" fill="url(#gGoldR)"/>
<polygon points="241.6,92.2 250.0,103.0 263.0,104.3 243.3,183.6 236.0,182.0 240.0,150.0 236.0,110.0" fill="#ffdc10" opacity="0.85"/>
<polygon points="226.5,88.5 241.6,92.2 236.0,110.0 226.0,140.0 218.0,176.0 206.7,174.2 214.0,130.0" fill="#eaa800" opacity="0.45"/>
<polygon points="196.0,152.0 226.0,150.0 228.0,170.0 222.0,178.0 206.7,174.2 202.4,166.2" fill="#e8e24a" opacity="0.5"/>
<polygon points="26.5,119.6 45.0,116.3 58.3,115.8 124.5,74.8 120.0,74.5" fill="url(#gGoldL)"/>
<polygon points="26.5,119.6 45.0,116.3 46.0,130.8 27.0,130.0" fill="#eed400"/>
<polygon points="45.0,116.3 58.3,115.8 58.5,129.0 46.0,131.5" fill="#c8d428"/>
<polygon points="58.3,115.8 124.5,74.8 227.3,88.7 190.5,143.5" fill="url(#gGlass)"/>
<polygon points="68.0,118.2 128.0,78.5 131.0,79.0 71.5,119.0" fill="#ffffff" opacity="0.85"/>
<polygon points="58.3,115.8 124.5,74.8 130.0,76.5 66.0,117.4" fill="#f2f4b0" opacity="0.9"/>
<polygon points="58.3,115.8 190.5,143.2 190.5,147.0 58.3,119.4" fill="#3cd0cc"/>
<polygon points="58.3,119.4 190.5,147.0 190.5,148.0 58.3,120.4" fill="#a8f0f0" opacity="0.8"/>
<polygon points="190.5,143.2 226.8,88.7 227.6,89.5 191.3,146.8" fill="#66d8b0"/>
<polygon points="58.3,115.8 124.5,74.8 125.3,75.4 59.5,117.5" fill="#86dcc0"/>
<ellipse cx="64.5" cy="124" rx="7.5" ry="5.6" fill="#f2a41a"/><ellipse cx="60.5" cy="122" rx="3.5" ry="3.5" fill="#fac828" opacity="0.85"/><circle cx="69.3" cy="123.6" r="1.2" fill="#503010" opacity="0.7"/>
<path d="M58.3,115.8L190.5,143.5M60.0,114.8L191.4,142.1M61.6,113.8L192.3,140.8M63.3,112.7L193.3,139.4M64.9,111.7L194.2,138.0M66.6,110.7L195.1,136.7M68.2,109.6L196.0,135.3M69.9,108.6L196.9,133.9M71.5,107.6L197.9,132.5M73.2,106.6L198.8,131.2M74.8,105.5L199.7,129.8M76.5,104.5L200.6,128.4M78.2,103.5L201.5,127.1M79.8,102.5L202.5,125.7M81.5,101.5L203.4,124.3M83.1,100.4L204.3,123.0M84.8,99.4L205.2,121.6M86.4,98.4L206.1,120.2M88.1,97.3L207.1,118.8M89.7,96.3L208.0,117.5M91.4,95.3L208.9,116.1M93.1,94.3L209.8,114.7M94.7,93.2L210.7,113.4M96.4,92.2L211.7,112.0M98.0,91.2L212.6,110.6M99.7,90.2L213.5,109.2M101.3,89.1L214.4,107.9M103.0,88.1L215.3,106.5M104.6,87.1L216.3,105.1M106.3,86.1L217.2,103.8M108.0,85.0L218.1,102.4M109.6,84.0L219.0,101.0M111.3,83.0L219.9,99.7M112.9,82.0L220.9,98.3M114.6,80.9L221.8,96.9M116.2,79.9L222.7,95.6M117.9,78.9L223.6,94.2M119.5,77.9L224.5,92.8M121.2,76.8L225.5,91.4M122.8,75.8L226.4,90.1M58.3,115.8L124.5,74.8M60.5,116.3L126.2,75.0M62.7,116.7L127.9,75.3M64.9,117.2L129.6,75.5M67.1,117.6L131.4,75.7M69.3,118.1L133.1,76.0M71.5,118.6L134.8,76.2M73.7,119.0L136.5,76.4M75.9,119.5L138.2,76.7M78.1,120.0L139.9,76.9M80.3,120.4L141.6,77.1M82.5,120.9L143.3,77.3M84.7,121.3L145.1,77.6M86.9,121.8L146.8,77.8M89.1,122.3L148.5,78.0M91.3,122.7L150.2,78.3M93.6,123.2L151.9,78.5M95.8,123.6L153.6,78.7M98.0,124.1L155.3,79.0M100.2,124.6L157.1,79.2M102.4,125.0L158.8,79.4M104.6,125.5L160.5,79.7M106.8,126.0L162.2,79.9M109.0,126.4L163.9,80.1M111.2,126.9L165.6,80.4M113.4,127.3L167.3,80.6M115.6,127.8L169.0,80.8M117.8,128.3L170.8,81.1M120.0,128.7L172.5,81.3M122.2,129.2L174.2,81.5M124.4,129.7L175.9,81.8M126.6,130.1L177.6,82.0M128.8,130.6L179.3,82.2M131.0,131.0L181.0,82.4M133.2,131.5L182.8,82.7M135.4,132.0L184.5,82.9M137.6,132.4L186.2,83.1M139.8,132.9L187.9,83.4M142.0,133.3L189.6,83.6M144.2,133.8L191.3,83.8M146.4,134.3L193.0,84.1M148.6,134.7L194.7,84.3M150.8,135.2L196.5,84.5M153.0,135.7L198.2,84.8M155.2,136.1L199.9,85.0M157.4,136.6L201.6,85.2M159.7,137.0L203.3,85.5M161.9,137.5L205.0,85.7M164.1,138.0L206.7,85.9M166.3,138.4L208.5,86.2M168.5,138.9L210.2,86.4M170.7,139.3L211.9,86.6M172.9,139.8L213.6,86.8M175.1,140.3L215.3,87.1M177.3,140.7L217.0,87.3M179.5,141.2L218.7,87.5M181.7,141.7L220.4,87.8M183.9,142.1L222.2,88.0M186.1,142.6L223.9,88.2M188.3,143.0L225.6,88.5" stroke="#9cc860" stroke-width="0.35" opacity="0.45" fill="none"/>
<polygon points="131.8,100.1 125.7,101.6 128.3,103.2 123.8,103.5 122.9,104.2 118.2,104.0 115.4,104.7 113.5,103.9 108.5,105.0 110.3,102.0 105.3,102.4 108.6,100.2 105.1,99.4 109.9,99.0 108.9,96.8 113.5,97.6 115.0,95.7 118.3,97.4 123.8,96.0 123.2,98.1 130.3,98.0 125.8,99.3" fill="#ffffff" opacity="0.95"/>
<polygon points="138.6,118.8 134.3,119.0 136.3,123.1 132.6,122.2 132.5,125.6 129.7,123.1 127.9,125.7 125.9,123.7 122.8,123.6 124.3,120.9 122.2,120.5 123.2,118.0 119.8,115.7 123.9,114.9 123.9,113.1 126.6,113.4 127.6,108.9 130.0,112.9 133.5,110.4 133.6,113.5 137.0,113.7 135.4,116.0" fill="#ffffff" opacity="0.95"/>
<polygon points="155.6,103.7 152.9,105.0 152.9,106.6 151.3,106.9 149.8,108.3 146.4,107.5 143.9,108.6 143.6,106.6 139.2,107.1 140.9,105.1 139.6,103.9 141.2,102.7 140.9,101.6 143.8,101.0 144.5,98.6 147.3,100.1 149.7,98.8 150.9,100.8 153.4,101.7 152.2,102.8" fill="#ffffff" opacity="0.95"/>
<polygon points="187.0,90.8 183.8,91.8 186.7,93.3 181.6,94.1 180.2,95.3 177.1,94.3 175.1,95.4 172.4,94.7 166.4,94.9 168.9,92.6 163.7,92.7 166.3,90.8 165.8,89.5 168.3,88.9 168.6,87.6 172.7,88.1 175.2,85.5 177.3,87.7 182.2,86.5 182.9,88.3 186.3,88.4 184.4,90.1" fill="#ffffff" opacity="0.95"/>
<polygon points="197.6,119.7 194.9,121.2 196.0,123.7 192.7,122.7 190.9,125.6 188.6,123.3 186.8,124.8 185.6,123.0 183.5,123.1 183.1,121.2 181.8,119.2 184.2,118.1 183.4,116.3 184.9,116.0 186.3,114.4 189.6,114.9 191.4,112.9 192.5,115.9 196.0,115.2 195.1,118.2" fill="#ffffff" opacity="0.95"/>
<polyline points="99.10,70.00 97.72,70.69 98.12,71.51 99.68,72.41 100.23,73.24 98.95,73.94 97.49,74.62 97.74,75.43 99.28,76.33 99.97,77.17 98.79,77.88 97.26,78.55 97.36,79.35 98.87,80.25 99.69,81.10 98.64,81.81 97.05,82.49 96.99,83.27 98.46,84.17 99.41,85.03 98.48,85.75 96.85,86.42 96.63,87.20 98.05,88.09 99.11,88.96 98.32,89.69 96.65,90.36 96.28,91.12 97.63,92.01" fill="none" stroke="#80d8f4" stroke-width="0.65" stroke-linejoin="round" stroke-linecap="round" opacity="0.9"/>
<polyline points="99.10,70.00 100.36,70.88 99.85,71.63 98.17,72.30 97.51,73.04 98.68,73.92 100.03,74.81 99.66,75.57 98.00,76.24 97.20,76.97 98.26,77.84 99.68,78.73 99.47,79.51 97.84,80.18 96.91,80.90 97.85,81.76 99.32,82.65 99.27,83.44 97.68,84.11 96.62,84.83 97.43,85.68 98.95,86.58 99.05,87.37 97.53,88.05 96.35,88.76 97.03,89.60 98.57,90.50 98.83,91.31 97.37,91.99" fill="none" stroke="#e8a0d0" stroke-width="0.65" stroke-linejoin="round" stroke-linecap="round" opacity="0.9"/>
<polyline points="99.10,70.00 98.31,70.73 97.99,71.50 98.31,72.31 99.03,73.15 99.64,73.99 99.73,74.78 99.19,75.54 98.33,76.26 97.68,77.01 97.61,77.79 98.13,78.62 98.87,79.46 99.32,80.28 99.15,81.06 98.43,81.80 97.60,82.53 97.14,83.29 97.32,84.09 97.98,84.93 98.67,85.77 98.90,86.57 98.49,87.33 97.66,88.06 96.92,88.80 96.69,89.57 97.10,90.39 97.84,91.23 98.39,92.06" fill="none" stroke="#b8c0d8" stroke-width="0.55" stroke-linejoin="round" stroke-linecap="round" opacity="0.85"/>
<polyline points="99.10,70.00 99.78,70.84 99.98,71.64 99.55,72.40 98.71,73.13 97.98,73.87 97.79,74.64 98.21,75.46 98.95,76.31 99.49,77.14 99.45,77.92 98.81,78.67 97.96,79.40 97.40,80.14 97.45,80.94 98.05,81.77 98.78,82.61 99.12,83.43 98.83,84.20 98.05,84.93 97.25,85.66 96.90,86.43 97.20,87.24 97.91,88.08 98.54,88.92 98.65,89.71 98.13,90.47 97.28,91.19 96.61,91.94" fill="none" stroke="#70d0d0" stroke-width="0.55" stroke-linejoin="round" stroke-linecap="round" opacity="0.85"/>
<polyline points="97.50,92.00 96.13,91.89 95.69,92.52 96.14,93.85 96.52,95.13 95.95,95.65 94.52,95.50 93.23,95.45 92.92,96.18 93.42,97.55 93.72,98.77 93.02,99.19 91.54,99.00 90.34,99.02 90.16,99.85 90.70,101.25 90.90,102.39 90.07,102.71 88.57,102.50 87.46,102.60 87.41,103.53" fill="none" stroke="#6a78e0" stroke-width="0.5" stroke-linejoin="round" stroke-linecap="round" opacity="0.7"/>
<polyline points="97.50,92.00 97.92,93.31 97.41,93.88 96.01,93.75 94.68,93.67 94.30,94.35 94.78,95.70 95.12,96.95 94.48,97.42 93.03,97.25 91.78,97.23 91.53,98.01 92.06,99.40 92.31,100.58 91.54,100.95 90.05,100.75 88.90,100.81 88.78,101.69 89.33,103.10 89.49,104.20 88.59,104.47" fill="none" stroke="#e070b0" stroke-width="0.5" stroke-linejoin="round" stroke-linecap="round" opacity="0.7"/>
<polyline points="97.50,92.00 97.55,93.39 98.26,93.73 99.57,93.10 100.79,92.61 101.32,93.24 101.30,94.74 101.46,95.96 102.34,96.02 103.70,95.31 104.80,95.02 105.16,95.91 105.12,97.46 105.42,98.46 106.45,98.27 107.82,97.54 108.77,97.49 108.98,98.62 108.95,100.16 109.41,100.89 110.58,100.48 111.92,99.81 112.70,100.03 112.79,101.36 112.81,102.80 113.44,103.26 114.72,102.68 115.98,102.13 116.59,102.64 116.59,104.10 116.71,105.39 117.51,105.57 118.86,104.89 120.01,104.51 120.44,105.29" fill="none" stroke="#50c0c8" stroke-width="0.5" stroke-linejoin="round" stroke-linecap="round" opacity="0.7"/>
<polyline points="97.50,92.00 98.77,91.43 99.39,91.92 99.40,93.37 99.50,94.68 100.30,94.88 101.64,94.20 102.80,93.81 103.25,94.57 103.21,96.10 103.44,97.21 104.39,97.15 105.77,96.42 106.79,96.25 107.08,97.26 107.03,98.81 107.41,99.68 108.52,99.38 109.87,98.67 110.74,98.76 110.89,99.99 110.88,101.49 111.42,102.08 112.65,101.58 113.95,100.96 114.65,101.33 114.69,102.73 114.75,104.11 115.47,104.42 116.79,103.78 118.00,103.31 118.52,103.96 118.50,105.47 118.67,106.67 119.56,106.71" fill="none" stroke="#9080d8" stroke-width="0.5" stroke-linejoin="round" stroke-linecap="round" opacity="0.7"/>
<polyline points="97.50,92.00 96.65,93.10 96.96,93.81 98.37,94.17 99.62,94.59 99.63,95.40 98.65,96.54 97.98,97.58 98.61,98.19 100.11,98.52 101.13,99.01 100.85,99.92 99.81,101.08 99.39,102.03 100.30,102.56 101.81,102.88 102.58,103.45 102.03,104.45 101.01,105.60 100.87,106.46 102.02,106.91 103.48,107.25 103.95,107.92 103.18,108.99 102.26,110.11 102.42,110.87 103.76,111.26 105.10,111.64" fill="none" stroke="#70c070" stroke-width="0.5" stroke-linejoin="round" stroke-linecap="round" opacity="0.7"/>
<polyline points="97.50,92.00 98.84,92.38 99.00,93.15 98.07,94.27 97.31,95.34 97.78,96.00 99.24,96.35 100.39,96.80 100.25,97.66 99.23,98.81 98.68,99.81 99.45,100.38 100.96,100.70 101.87,101.23 101.44,102.18 100.41,103.34 100.12,104.25 101.16,104.73 102.65,105.07 103.27,105.68 102.61,106.72 101.63,107.86 101.64,108.67 102.89,109.09 104.30,109.45 104.61,110.16 103.76,111.26 102.90,112.36" fill="none" stroke="#d878b0" stroke-width="0.5" stroke-linejoin="round" stroke-linecap="round" opacity="0.7"/>
<polyline points="88.00,104.00 88.71,105.20 89.49,105.16 90.35,103.97 91.20,102.97 91.96,103.29 92.66,104.64 93.38,105.61 94.19,105.22 95.06,103.93 95.89,103.19 96.63,103.85 97.32,105.25 98.07,105.93 98.89,105.21 99.76,103.93 100.57,103.51 101.29,104.46 101.99,105.81 102.75,106.16 103.60,105.17 104.46,103.98 105.24,103.91 105.95,105.10 106.66,106.31 107.44,106.29 108.30,105.12 109.15,104.10 109.91,104.40 110.61,105.73 111.34,106.73 112.14,106.36 113.01,105.08 113.84,104.32 114.58,104.95 115.28,106.35 116.02,107.05 116.84,106.36 117.71,105.07 118.52,104.62 119.24,105.56 119.94,106.92" fill="none" stroke="#8898c0" stroke-width="0.5" stroke-linejoin="round" stroke-linecap="round" opacity="0.7"/>
<polyline points="88.00,104.00 88.85,102.90 89.63,103.04 90.33,104.32 91.05,105.42 91.84,105.20 92.70,103.95 93.54,103.07 94.30,103.56 94.99,104.95 95.72,105.78 96.54,105.22 97.41,103.92 98.23,103.34 98.96,104.15 99.66,105.54 100.41,106.05 101.25,105.20 102.11,103.94 102.91,103.70 103.62,104.78 104.32,106.07 105.10,106.24 105.95,105.15 106.80,104.03 107.58,104.14 108.28,105.42 109.00,106.53 109.79,106.33 110.65,105.09 111.49,104.20 112.25,104.67 112.95,106.05 113.68,106.90 114.49,106.36 115.36,105.07 116.18,104.46 116.91,105.25 117.61,106.64 118.36,107.18 119.20,106.34 120.06,105.08" fill="none" stroke="#60c8f0" stroke-width="0.5" stroke-linejoin="round" stroke-linecap="round" opacity="0.7"/>
<polyline points="120.00,106.00 118.87,105.20 118.17,105.54 117.87,106.95 117.52,108.22 116.71,108.29 115.54,107.37 114.47,106.73 113.87,107.35 113.60,108.86 113.18,109.93 112.27,109.72 111.08,108.75 110.09,108.33 109.59,109.21 109.33,110.74 108.82,111.58 107.82,111.12 106.63,110.15 105.73,109.99 105.32,111.09 105.05,112.59 104.44,113.16" fill="none" stroke="#6a78e0" stroke-width="0.5" stroke-linejoin="round" stroke-linecap="round" opacity="0.7"/>
<polyline points="120.00,106.00 119.68,107.35 118.92,107.55 117.77,106.68 116.67,105.96 116.02,106.44 115.74,107.91 115.35,109.08 114.49,109.01 113.30,108.05 112.28,107.52 111.73,108.28 111.47,109.80 111.00,110.76 110.05,110.43 108.85,109.44 107.91,109.15 107.45,110.15 107.19,111.67 106.63,112.38 105.59,111.82 104.41,110.87 103.56,110.84" fill="none" stroke="#e070b0" stroke-width="0.5" stroke-linejoin="round" stroke-linecap="round" opacity="0.7"/>
<polyline points="104.00,112.00 103.82,110.62 103.09,110.35 101.85,111.09 100.68,111.69 100.08,111.14 99.96,109.65 99.69,108.44 98.83,108.44 97.54,109.27 96.47,109.67 96.01,108.85 95.91,107.30 95.54,106.32 94.54,106.57 93.25,107.42 92.29,107.59 91.95,106.53 91.85,104.99 91.35,104.25 90.24,104.73 88.97,105.54 88.15,105.45 87.91,104.18" fill="none" stroke="#50c0c8" stroke-width="0.5" stroke-linejoin="round" stroke-linecap="round" opacity="0.7"/>
<polyline points="104.00,112.00 102.79,112.68 102.13,112.26 101.98,110.82 101.76,109.52 100.96,109.38 99.69,110.18 98.57,110.69 98.04,110.00 97.94,108.47 97.62,107.37 96.69,107.50 95.39,108.35 94.38,108.64 93.98,107.69 93.88,106.14 93.45,105.28 92.39,105.65 91.10,106.49 90.21,106.53 89.93,105.36 89.81,103.85 89.25,103.25 88.09,103.82" fill="none" stroke="#9080d8" stroke-width="0.5" stroke-linejoin="round" stroke-linecap="round" opacity="0.7"/>
<polyline points="140.00,43.00 138.64,43.72 139.06,44.53 140.63,45.39 141.21,46.21 139.96,46.94 138.51,47.65 138.75,48.45 140.32,49.32 141.04,50.14 139.91,50.87 138.39,51.58 138.46,52.38 139.99,53.24 140.86,54.07 139.86,54.81 138.28,55.52 138.19,56.30 139.66,57.16 140.67,58.00 139.81,58.74 138.18,59.45 137.92,60.23 139.33,61.08 140.46,61.92 139.75,62.68 138.10,63.38 137.67,64.15 138.99,65.00 140.23,65.85 139.68,66.61 138.02,67.32 137.43,68.08 138.65,68.92 139.99,69.78 139.60,70.55 137.96,71.25 137.21,72.00 138.32,72.85 139.74,73.70 139.52,74.48 137.90,75.19 137.00,75.93" fill="none" stroke="#80d8f4" stroke-width="0.65" stroke-linejoin="round" stroke-linecap="round" opacity="0.9"/>
<polyline points="140.00,43.00 141.28,43.85 140.79,44.61 139.14,45.32 138.49,46.08 139.66,46.92 141.04,47.78 140.71,48.55 139.07,49.26 138.27,50.00 139.33,50.84 140.78,51.70 140.62,52.48 139.02,53.19 138.07,53.93 139.00,54.76 140.50,55.63 140.52,56.41 138.97,57.13 137.88,57.86 138.67,58.69 140.22,59.55 140.40,60.35 138.92,61.06 137.71,61.79 138.35,62.61 139.92,63.47 140.27,64.28 138.88,65.00 137.56,65.72 138.03,66.53 139.62,67.40 140.13,68.21 138.83,68.93 137.42,69.65 137.73,70.45 139.30,71.32 139.97,72.14 138.79,72.87 137.29,73.58 137.44,74.38 138.98,75.24 139.80,76.07" fill="none" stroke="#e8a0d0" stroke-width="0.65" stroke-linejoin="round" stroke-linecap="round" opacity="0.9"/>
<polyline points="140.00,43.00 139.23,43.75 138.93,44.52 139.27,45.33 140.00,46.15 140.64,46.97 140.74,47.76 140.23,48.52 139.39,49.27 138.75,50.03 138.69,50.81 139.23,51.63 139.99,52.45 140.46,53.26 140.32,54.04 139.64,54.80 138.82,55.54 138.36,56.31 138.54,57.11 139.22,57.93 139.93,58.75 140.20,59.55 139.83,60.32 139.03,61.07 138.29,61.82 138.06,62.60 138.47,63.40 139.22,64.23 139.81,65.04 139.84,65.83 139.26,66.59 138.43,67.34 137.84,68.10 137.86,68.89 138.44,69.70 139.20,70.53 139.61,71.33 139.40,72.11 138.66,72.86 137.86,73.61 137.48,74.38 137.73,75.18 138.44,76.00" fill="none" stroke="#b8c0d8" stroke-width="0.55" stroke-linejoin="round" stroke-linecap="round" opacity="0.85"/>
<polyline points="140.00,43.00 140.69,43.82 140.92,44.62 140.51,45.39 139.69,46.14 138.98,46.89 138.80,47.67 139.24,48.48 140.00,49.30 140.56,50.12 140.55,50.90 139.94,51.66 139.10,52.41 138.55,53.17 138.61,53.96 139.22,54.78 139.97,55.60 140.34,56.41 140.08,57.18 139.33,57.93 138.54,58.68 138.20,59.45 138.50,60.25 139.22,61.08 139.88,61.90 140.03,62.69 139.55,63.45 138.72,64.20 138.06,64.96 137.95,65.74 138.45,66.55 139.21,67.38 139.72,68.19 139.63,68.97 138.97,69.73 138.14,70.47 137.65,71.24 137.79,72.03 138.44,72.85 139.17,73.67 139.47,74.48 139.14,75.25 138.36,76.00" fill="none" stroke="#70d0d0" stroke-width="0.55" stroke-linejoin="round" stroke-linecap="round" opacity="0.85"/>
<polyline points="138.40,76.00 137.02,75.87 136.58,76.52 137.03,77.88 137.37,79.16 136.72,79.63 135.25,79.43 134.00,79.41 133.78,80.23 134.30,81.65 134.49,82.81 133.63,83.11 132.12,82.87 131.03,82.98 131.00,83.96 131.55,85.41 131.57,86.42 130.52,86.57 129.00,86.32 128.09,86.58 128.25,87.71 128.78,89.14 128.60,90.00 127.38,90.01 125.90,89.80 125.20,90.22 125.51,91.48 125.98,92.86 125.59,93.54 124.24,93.44 122.84,93.29" fill="none" stroke="#50c0c8" stroke-width="0.5" stroke-linejoin="round" stroke-linecap="round" opacity="0.7"/>
<polyline points="138.40,76.00 138.80,77.33 138.26,77.88 136.83,77.72 135.51,77.64 135.18,78.37 135.67,79.77 135.94,80.99 135.18,81.37 133.68,81.15 132.51,81.19 132.39,82.09 132.92,83.53 133.03,84.62 132.08,84.84 130.55,84.59 129.55,84.78 129.62,85.83 130.16,87.28 130.09,88.22 128.95,88.29 127.44,88.06 126.64,88.40 126.88,89.59 127.38,91.00 127.10,91.78 125.81,91.72 124.36,91.54 123.77,92.06 124.14,93.36 124.56,94.71" fill="none" stroke="#9080d8" stroke-width="0.5" stroke-linejoin="round" stroke-linecap="round" opacity="0.7"/>
<polyline points="138.40,76.00 138.03,77.33 138.59,77.88 140.00,77.68 141.32,77.56 141.68,78.27 141.23,79.68 140.98,80.91 141.72,81.29 143.21,81.04 144.40,81.03 144.57,81.90 144.07,83.35 143.96,84.46 144.89,84.69 146.40,84.41 147.44,84.53 147.44,85.55 146.93,87.01 146.98,87.98 148.07,88.06 149.58,87.79 150.45,88.06 150.29,89.22 149.80,90.65 150.04,91.47 151.27,91.43 152.74,91.19 153.42,91.62 153.13,92.89" fill="none" stroke="#70c070" stroke-width="0.5" stroke-linejoin="round" stroke-linecap="round" opacity="0.7"/>
<polyline points="138.40,76.00 139.77,75.84 140.23,76.47 139.82,77.84 139.50,79.13 140.15,79.59 141.61,79.36 142.87,79.29 143.13,80.09 142.65,81.51 142.47,82.69 143.30,82.99 144.81,82.72 145.92,82.78 146.01,83.73 145.50,85.18 145.47,86.23 146.48,86.38 148.00,86.09 148.95,86.29 148.86,87.38 148.36,88.83 148.50,89.73 149.67,89.75 151.16,89.48 151.94,89.84 151.71,91.05 151.25,92.47 151.58,93.21 152.87,93.11" fill="none" stroke="#d878b0" stroke-width="0.5" stroke-linejoin="round" stroke-linecap="round" opacity="0.7"/>
<polyline points="138.40,76.00 137.28,76.86 137.46,77.65 138.79,78.37 139.84,79.10 139.50,79.92 138.20,80.79 137.44,81.64 138.11,82.39 139.53,83.11 140.16,83.86 139.36,84.71 138.07,85.58 137.77,86.40 138.86,87.13 140.16,87.85 140.30,88.64 139.16,89.50 138.07,90.36 138.29,91.15 139.63,91.87 140.65,92.60 140.27,93.42 138.96,94.30 138.23,95.14 138.95,95.89 140.36,96.60 140.95,97.37 140.12,98.21 138.84,99.08 138.59,99.90 139.70,100.63 140.99,101.35 141.08,102.14 139.91,103.01" fill="none" stroke="#8898c0" stroke-width="0.5" stroke-linejoin="round" stroke-linecap="round" opacity="0.7"/>
<polyline points="138.40,76.00 139.61,76.73 139.53,77.53 138.30,78.40 137.34,79.25 137.77,80.02 139.17,80.74 140.02,81.48 139.44,82.31 138.12,83.19 137.58,84.02 138.47,84.76 139.86,85.48 140.25,86.25 139.26,87.11 138.05,87.97 138.01,88.77 139.24,89.50 140.43,90.22 140.30,91.03 139.05,91.90 138.13,92.75 138.60,93.52 140.00,94.23 140.83,94.98 140.21,95.82 138.89,96.69 138.39,97.52 139.32,98.26 140.69,98.97 141.04,99.75 140.02,100.61 138.82,101.48 138.83,102.27 140.09,102.99" fill="none" stroke="#60c8f0" stroke-width="0.5" stroke-linejoin="round" stroke-linecap="round" opacity="0.7"/>
<polyline points="123.70,94.00 124.53,95.13 125.32,94.99 126.07,93.69 126.83,92.65 127.63,92.98 128.47,94.29 129.29,95.10 130.06,94.49 130.80,93.10 131.57,92.43 132.39,93.20 133.23,94.52 134.04,94.91 134.80,93.90 135.54,92.59 136.33,92.38 137.16,93.49 137.99,94.65 138.78,94.56 139.53,93.28 140.29,92.20 141.09,92.48 141.93,93.78 142.75,94.64 143.52,94.07 144.27,92.69 145.04,91.97 145.85,92.69 146.69,94.02 147.50,94.46 148.26,93.50 149.01,92.16 149.79,91.90 150.62,92.97 151.45,94.16 152.25,94.13 153.00,92.88" fill="none" stroke="#6a78e0" stroke-width="0.5" stroke-linejoin="round" stroke-linecap="round" opacity="0.7"/>
<polyline points="123.70,94.00 124.45,92.81 125.25,92.91 126.08,94.15 126.91,95.14 127.69,94.75 128.44,93.39 129.20,92.52 130.01,93.08 130.85,94.42 131.66,95.03 132.43,94.20 133.17,92.83 133.95,92.39 134.78,93.34 135.61,94.60 136.41,94.75 137.16,93.59 137.92,92.38 138.71,92.41 139.54,93.63 140.37,94.66 141.15,94.33 141.90,92.98 142.66,92.07 143.47,92.57 144.31,93.91 145.13,94.57 145.89,93.79 146.64,92.41 147.41,91.92 148.24,92.83 149.07,94.11 149.87,94.31 150.63,93.19 151.38,91.95 152.17,91.92 153.00,93.12" fill="none" stroke="#e070b0" stroke-width="0.5" stroke-linejoin="round" stroke-linecap="round" opacity="0.7"/>
<polyline points="153.00,93.00 151.68,92.56 151.11,93.11 151.25,94.56 151.27,95.87 150.49,96.14 149.08,95.59 147.89,95.33 147.54,96.15 147.73,97.68 147.60,98.79 146.62,98.79 145.18,98.20 144.16,98.16 143.99,99.23 144.19,100.77 143.88,101.63 142.72,101.41 141.30,100.85 140.48,101.06 140.48,102.34 140.63,103.81" fill="none" stroke="#50c0c8" stroke-width="0.5" stroke-linejoin="round" stroke-linecap="round" opacity="0.7"/>
<polyline points="153.00,93.00 153.08,94.39 152.41,94.80 151.04,94.30 149.78,93.94 149.32,94.62 149.49,96.12 149.44,97.34 148.56,97.47 147.13,96.89 146.02,96.74 145.76,97.68 145.96,99.23 145.74,100.22 144.67,100.11 143.23,99.52 142.31,99.60 142.23,100.78 142.41,102.30 142.00,103.03 140.76,102.71 139.37,102.19" fill="none" stroke="#9080d8" stroke-width="0.5" stroke-linejoin="round" stroke-linecap="round" opacity="0.7"/>
<polyline points="140.00,103.00 139.88,101.62 139.16,101.31 137.89,102.00 136.70,102.56 136.13,101.99 136.06,100.51 135.85,99.28 135.00,99.22 133.69,99.99 132.59,100.37 132.15,99.56 132.11,98.02 131.80,96.99 130.82,97.16 129.49,97.96 128.51,98.14 128.19,97.10 128.15,95.56 127.72,94.75 126.62,95.14 125.31,95.91 124.45,95.85 124.24,94.62 124.18,93.13" fill="none" stroke="#70c070" stroke-width="0.5" stroke-linejoin="round" stroke-linecap="round" opacity="0.7"/>
<polyline points="140.00,103.00 138.77,103.63 138.12,103.19 138.03,101.75 137.87,100.44 137.08,100.26 135.79,100.99 134.64,101.47 134.13,100.78 134.09,99.26 133.83,98.13 132.91,98.19 131.59,98.98 130.54,99.26 130.17,98.34 130.14,96.79 129.76,95.86 128.72,96.15 127.40,96.94 126.48,97.00 126.22,95.86 126.17,94.34 125.66,93.65 124.52,94.13 123.22,94.87" fill="none" stroke="#d878b0" stroke-width="0.5" stroke-linejoin="round" stroke-linecap="round" opacity="0.7"/>
<polyline points="162.00,72.00 160.62,72.67 160.98,73.48 162.52,74.39 163.11,75.22 161.89,75.91 160.39,76.57 160.51,77.36 162.01,78.26 162.82,79.11 161.78,79.81 160.19,80.46 160.06,81.24 161.48,82.14 162.49,83.00 161.66,83.72 160.01,84.37 159.64,85.12 160.95,86.01 162.13,86.89 161.53,87.62 159.86,88.27 159.25,89.00 160.42,89.88 161.74,90.77 161.37,91.52 159.72,92.17 158.89,92.89 159.89,93.75 161.32,94.65 161.20,95.42 159.60,96.08 158.56,96.77 159.36,97.62 160.86,98.53 160.99,99.32 159.49,99.98" fill="none" stroke="#80d8f4" stroke-width="0.65" stroke-linejoin="round" stroke-linecap="round" opacity="0.9"/>
<polyline points="162.00,72.00 163.25,72.89 162.76,73.63 161.10,74.27 160.37,75.00 161.47,75.87 162.84,76.77 162.60,77.53 160.97,78.18 160.03,78.89 160.94,79.74 162.41,80.65 162.41,81.43 160.85,82.09 159.72,82.78 160.42,83.62 161.94,84.52 162.19,85.33 160.75,85.99 159.44,86.67 159.92,87.49 161.46,88.40 161.94,89.22 160.64,89.90 159.20,90.56 159.43,91.36 160.95,92.27 161.66,93.11 160.53,93.80 158.98,94.46 158.97,95.24 160.43,96.15 161.35,97.00 160.42,97.71 158.79,98.36 158.53,99.12 159.91,100.02" fill="none" stroke="#e8a0d0" stroke-width="0.65" stroke-linejoin="round" stroke-linecap="round" opacity="0.9"/>
<polyline points="162.00,72.00 161.21,72.72 160.88,73.47 161.17,74.28 161.87,75.12 162.49,75.96 162.60,76.75 162.08,77.49 161.24,78.20 160.55,78.93 160.41,79.70 160.88,80.52 161.60,81.36 162.10,82.19 162.00,82.96 161.34,83.69 160.49,84.40 159.95,85.14 160.01,85.93 160.61,86.76 161.31,87.60 161.65,88.41 161.36,89.17 160.58,89.89 159.78,90.61 159.41,91.36 159.66,92.17 160.35,93.01 160.99,93.84 161.13,94.64 160.66,95.38 159.82,96.09 159.11,96.82 158.93,97.59 159.36,98.41 160.09,99.25 160.61,100.07" fill="none" stroke="#b8c0d8" stroke-width="0.55" stroke-linejoin="round" stroke-linecap="round" opacity="0.85"/>
<polyline points="162.00,72.00 162.66,72.84 162.87,73.64 162.44,74.39 161.62,75.10 160.87,75.82 160.64,76.59 161.02,77.40 161.74,78.24 162.30,79.07 162.31,79.86 161.72,80.59 160.86,81.30 160.24,82.03 160.21,82.82 160.74,83.64 161.46,84.48 161.88,85.30 161.69,86.07 160.97,86.79 160.13,87.51 159.67,88.25 159.83,89.05 160.48,89.88 161.16,90.72 161.40,91.53 161.01,92.28 160.20,92.99 159.44,93.71 159.16,94.47 159.51,95.29 160.22,96.13 160.80,96.96 160.85,97.75 160.30,98.48 159.44,99.20 158.79,99.93" fill="none" stroke="#70d0d0" stroke-width="0.55" stroke-linejoin="round" stroke-linecap="round" opacity="0.85"/>
<polyline points="159.70,100.00 158.29,100.01 157.95,100.74 158.57,102.10 158.98,103.32 158.25,103.79 156.70,103.70 155.55,103.89 155.59,104.86 156.28,106.28 156.38,107.30 155.30,107.53 153.74,107.44 152.93,107.85 153.29,109.04 153.93,110.42 153.67,111.19 152.30,111.23 150.86,111.22 150.44,111.89 151.02,113.23 151.48,114.49 150.83,115.01 149.30,114.94 148.09,115.08 148.05,116.01 148.74,117.42 148.92,118.49 147.90,118.76 146.33,118.66 145.45,119.02 145.74,120.17 146.41,121.57 146.22,122.39 144.91,122.47 143.43,122.43 142.93,123.05 143.48,124.37 143.98,125.66" fill="none" stroke="#70c070" stroke-width="0.5" stroke-linejoin="round" stroke-linecap="round" opacity="0.7"/>
<polyline points="159.70,100.00 160.23,101.30 159.69,101.90 158.20,101.85 156.91,101.94 156.76,102.79 157.43,104.19 157.70,105.32 156.78,105.66 155.21,105.56 154.23,105.86 154.43,106.95 155.11,108.35 155.04,109.26 153.81,109.38 152.29,109.32 151.67,109.86 152.15,111.13 152.72,112.46 152.26,113.11 150.80,113.08 149.46,113.14 149.23,113.94 149.89,115.33 150.21,116.50 149.37,116.89 147.81,116.79 146.75,117.04 146.89,118.08 147.58,119.50 147.58,120.45 146.41,120.62 144.87,120.54 144.17,121.03 144.61,122.27 145.21,123.62 144.83,124.32 143.40,124.32 142.02,124.34" fill="none" stroke="#d878b0" stroke-width="0.5" stroke-linejoin="round" stroke-linecap="round" opacity="0.7"/>
<polyline points="159.70,100.00 159.09,101.25 159.55,101.89 161.01,101.95 162.31,102.11 162.47,102.92 161.73,104.24 161.31,105.38 162.08,105.84 163.63,105.86 164.71,106.14 164.57,107.12 163.79,108.47 163.62,109.47 164.67,109.77 166.22,109.78 167.02,110.22 166.63,111.35 165.88,112.68 166.00,113.51 167.28,113.68 168.75,113.73 169.25,114.35 168.66,115.59 168.03,116.85 168.46,117.50 169.91,117.58 171.23,117.72 171.42,118.51 170.69,119.83 170.25,120.98 170.99,121.46 172.53,121.48 173.63,121.75 173.52,122.71 172.74,124.06 172.54,125.07 173.56,125.39 175.12,125.40 175.95,125.83 175.58,126.94 174.83,128.27 174.92,129.12" fill="none" stroke="#8898c0" stroke-width="0.5" stroke-linejoin="round" stroke-linecap="round" opacity="0.7"/>
<polyline points="159.70,100.00 161.09,100.11 161.40,100.83 160.71,102.12 160.19,103.32 160.81,103.87 162.32,103.90 163.52,104.12 163.53,105.02 162.75,106.36 162.46,107.43 163.37,107.81 164.93,107.82 165.87,108.18 165.60,109.23 164.83,110.58 164.80,111.49 165.97,111.72 167.49,111.75 168.15,112.28 167.64,113.47 166.95,114.77 167.22,115.51 168.59,115.63 170.00,115.72 170.34,116.43 169.67,117.71 169.13,118.92 169.72,119.49 171.22,119.53 172.44,119.73 172.48,120.61 171.71,121.95 171.39,123.03 172.27,123.43 173.83,123.44 174.80,123.78 174.56,124.82 173.78,126.17 173.72,127.10 174.87,127.35 176.40,127.37 177.08,127.88" fill="none" stroke="#60c8f0" stroke-width="0.5" stroke-linejoin="round" stroke-linecap="round" opacity="0.7"/>
<polyline points="159.70,100.00 158.73,101.01 159.00,101.76 160.39,102.27 161.57,102.82 161.42,103.66 160.30,104.70 159.60,105.66 160.27,106.32 161.76,106.81 162.62,107.43 162.09,108.35 160.93,109.40 160.59,110.28 161.62,110.86 163.07,111.36 163.55,112.06 162.70,113.05 161.64,114.08 161.70,114.87 163.00,115.40" fill="none" stroke="#6a78e0" stroke-width="0.5" stroke-linejoin="round" stroke-linecap="round" opacity="0.7"/>
<polyline points="159.70,100.00 161.00,100.53 161.06,101.32 160.00,102.35 159.15,103.34 159.63,104.04 161.08,104.54 162.11,105.12 161.77,106.00 160.61,107.05 160.08,107.97 160.94,108.59 162.43,109.08 163.10,109.74 162.40,110.70 161.28,111.74 161.13,112.58 162.31,113.13 163.70,113.64 163.97,114.39 163.00,115.40" fill="none" stroke="#e070b0" stroke-width="0.5" stroke-linejoin="round" stroke-linecap="round" opacity="0.7"/>
<polyline points="143.00,125.00 143.66,126.24 144.46,126.21 145.38,125.03 146.27,124.10 147.02,124.52 147.67,125.93 148.36,126.86 149.21,126.40 150.14,125.13 150.99,124.54 151.70,125.38 152.34,126.81 153.08,127.35 153.96,126.50 154.89,125.29 155.70,125.13 156.37,126.29 157.03,127.59 157.81,127.69 158.72,126.57 159.63,125.56 160.39,125.85 161.04,127.23 161.72,128.26 162.56,127.91 163.48,126.65 164.35,125.96 165.07,126.68 165.71,128.12 166.44,128.78 167.31,128.04 168.24,126.79 169.06,126.51 169.74,127.59 170.39,128.94 171.16,129.17 172.07,128.11 172.98,127.03 173.75,127.19 174.41,128.52 175.08,129.64 175.90,129.42" fill="none" stroke="#50c0c8" stroke-width="0.5" stroke-linejoin="round" stroke-linecap="round" opacity="0.7"/>
<polyline points="143.00,125.00 143.91,123.93 144.68,124.13 145.33,125.47 146.01,126.57 146.83,126.31 147.76,125.07 148.64,124.30 149.36,124.94 150.01,126.37 150.72,127.13 151.59,126.46 152.51,125.19 153.35,124.82 154.04,125.83 154.68,127.21 155.44,127.54 156.34,126.54 157.26,125.41 158.05,125.48 158.70,126.76 159.37,127.94 160.18,127.81 161.10,126.61 161.99,125.74 162.73,126.26 163.37,127.68 164.08,128.54 164.93,127.98 165.86,126.71 166.71,126.22 167.41,127.13 168.05,128.54 168.80,128.99 169.69,128.08 170.61,126.89 171.41,126.83 172.07,128.06 172.74,129.31 173.53,129.31 174.45,128.14 175.34,127.19 176.10,127.58" fill="none" stroke="#9080d8" stroke-width="0.5" stroke-linejoin="round" stroke-linecap="round" opacity="0.7"/>
<polyline points="176.00,128.50 176.27,127.15 175.69,126.64 174.30,126.94 172.99,127.15 172.56,126.50 172.90,125.08 173.08,123.82 172.35,123.45 170.91,123.80 169.69,123.93 169.41,123.12 169.79,121.66 169.87,120.50 168.99,120.29 167.52,120.67 166.42,120.68 166.27,119.74 166.67,118.25 166.63,117.21 165.62,117.13 164.14,117.52 163.16,117.41 163.15,116.33 163.55,114.86" fill="none" stroke="#70c070" stroke-width="0.5" stroke-linejoin="round" stroke-linecap="round" opacity="0.7"/>
<polyline points="176.00,128.50 174.65,128.76 174.14,128.18 174.45,126.79 174.68,125.48 174.02,125.05 172.60,125.37 171.34,125.54 170.98,124.81 171.34,123.37 171.48,122.16 170.67,121.87 169.21,122.24 168.05,122.31 167.84,121.43 168.23,119.96 168.25,118.86 167.31,118.71 165.83,119.10 164.79,119.04 164.71,118.04 165.11,116.55 165.00,115.58 163.93,115.56 162.45,115.94" fill="none" stroke="#d878b0" stroke-width="0.5" stroke-linejoin="round" stroke-linecap="round" opacity="0.7"/>
<polyline points="163.00,115.40 161.78,114.70 161.12,115.15 160.96,116.64 160.68,117.90 159.81,117.91 158.52,117.05 157.44,116.64 156.98,117.51 156.86,119.08 156.42,120.00 155.36,119.62 154.06,118.75 153.17,118.72 152.88,119.94 152.72,121.45 152.08,121.96 150.88,121.28 149.65,120.55 148.96,120.95 148.79,122.41 148.53,123.71 147.69,123.78 146.40,122.93 145.30,122.47 144.82,123.29 144.69,124.86 144.28,125.83 143.24,125.50" fill="none" stroke="#8898c0" stroke-width="0.5" stroke-linejoin="round" stroke-linecap="round" opacity="0.7"/>
<polyline points="163.00,115.40 162.79,116.79 162.02,117.02 160.76,116.22 159.60,115.65 159.04,116.31 158.91,117.86 158.56,118.96 157.59,118.78 156.29,117.89 155.30,117.66 154.93,118.72 154.79,120.28 154.26,120.99 153.12,120.46 151.85,119.64 151.06,119.82 150.83,121.18 150.63,122.60 149.89,122.88 148.64,122.10 147.47,121.49 146.88,122.11 146.74,123.64 146.41,124.79 145.47,124.65 144.16,123.76 143.15,123.49 142.76,124.50" fill="none" stroke="#60c8f0" stroke-width="0.5" stroke-linejoin="round" stroke-linecap="round" opacity="0.7"/>
<polyline points="204.50,58.00 203.03,58.42 203.23,59.27 204.57,60.42 205.05,61.35 203.78,61.82 202.16,62.20 202.06,62.97 203.35,64.11 204.09,65.10 203.05,65.63 201.34,65.99 200.94,66.68 202.11,67.79 203.07,68.85 202.30,69.44 200.55,69.79 199.86,70.41 200.87,71.48 202.00,72.57 201.52,73.25 199.80,73.60 198.83,74.15 199.63,75.16 200.89,76.29 200.71,77.04 199.06,77.41 197.85,77.90 198.40,78.84" fill="none" stroke="#80d8f4" stroke-width="0.65" stroke-linejoin="round" stroke-linecap="round" opacity="0.9"/>
<polyline points="204.50,58.00 205.57,59.08 204.99,59.73 203.25,60.08 202.38,60.65 203.26,61.68 204.48,62.80 204.19,63.53 202.51,63.89 201.38,64.40 202.02,65.37 203.34,66.51 203.35,67.32 201.78,67.71 200.43,68.15 200.81,69.06 202.16,70.21 202.46,71.09 201.06,71.52 199.53,71.93 199.62,72.75 200.95,73.90 201.53,74.85 200.34,75.34 198.68,75.71 198.47,76.46 199.72,77.59 200.54,78.60 199.60,79.16" fill="none" stroke="#e8a0d0" stroke-width="0.65" stroke-linejoin="round" stroke-linecap="round" opacity="0.9"/>
<polyline points="204.50,58.00 203.60,58.57 203.14,59.25 203.28,60.09 203.82,61.03 204.29,61.95 204.28,62.75 203.67,63.39 202.73,63.95 201.91,64.53 201.60,65.26 201.88,66.13 202.45,67.08 202.82,67.98 202.65,68.74 201.92,69.35 200.96,69.90 200.25,70.51 200.10,71.27 200.50,72.18 201.06,73.13 201.32,74.00 200.99,74.71 200.15,75.29 199.21,75.85 198.63,76.50 198.65,77.30 199.13,78.23 199.65,79.17" fill="none" stroke="#b8c0d8" stroke-width="0.55" stroke-linejoin="round" stroke-linecap="round" opacity="0.85"/>
<polyline points="204.50,58.00 205.01,58.93 205.07,59.75 204.54,60.41 203.61,60.97 202.75,61.55 202.37,62.25 202.58,63.11 203.13,64.05 203.56,64.97 203.47,65.74 202.80,66.37 201.84,66.92 201.07,67.52 200.85,68.26 201.19,69.15 201.75,70.10 202.07,70.99 201.82,71.73 201.04,72.32 200.08,72.87 199.43,73.50 199.37,74.29 199.81,75.21 200.36,76.15 200.55,77.00 200.14,77.70 199.26,78.27 198.35,78.83" fill="none" stroke="#70d0d0" stroke-width="0.55" stroke-linejoin="round" stroke-linecap="round" opacity="0.85"/>
<polyline points="199.00,79.00 197.59,79.03 197.27,79.77 197.90,81.13 198.32,82.35 197.56,82.81 196.00,82.74 194.88,82.96 194.97,83.97 195.69,85.38 195.75,86.37 194.61,86.58 193.05,86.51 192.32,86.99 192.75,88.22 193.38,89.57 193.03,90.29 191.61,90.32 190.21,90.36 189.91,91.11 190.56,92.48 190.96,93.69 190.18,94.13 188.61,94.06 187.51,94.29 187.63,95.32 188.34,96.73 188.38,97.70 187.22,97.90 185.67,97.84 184.97,98.33" fill="none" stroke="#8898c0" stroke-width="0.5" stroke-linejoin="round" stroke-linecap="round" opacity="0.7"/>
<polyline points="199.00,79.00 199.54,80.30 199.00,80.90 197.50,80.87 196.22,80.98 196.10,81.86 196.80,83.26 197.05,84.37 196.10,84.70 194.51,84.62 193.58,84.96 193.86,86.09 194.55,87.49 194.41,88.34 193.11,88.45 191.62,88.43 191.10,89.04 191.66,90.35 192.19,91.64 191.62,92.22 190.10,92.18 188.84,92.31 188.76,93.21 189.46,94.61 189.69,95.71 188.71,96.02 187.13,95.94 186.22,96.30 186.51,97.44 187.20,98.83 187.03,99.67" fill="none" stroke="#60c8f0" stroke-width="0.5" stroke-linejoin="round" stroke-linecap="round" opacity="0.7"/>
<polyline points="199.00,79.00 198.38,80.24 198.83,80.88 200.28,80.96 201.58,81.11 201.77,81.90 201.04,83.20 200.58,84.35 201.29,84.85 202.82,84.87 203.94,85.13 203.87,86.06 203.09,87.40 202.84,88.43 203.79,88.79 205.34,88.80 206.25,89.19 205.95,90.25 205.17,91.58 205.15,92.48 206.32,92.71 207.84,92.75 208.49,93.27 208.00,94.45 207.29,95.74 207.53,96.50 208.87,96.63 210.29,96.72 210.68,97.39 210.03,98.65 209.45,99.87 209.95,100.48 211.42,100.54 212.69,100.72 212.82,101.54" fill="none" stroke="#6a78e0" stroke-width="0.5" stroke-linejoin="round" stroke-linecap="round" opacity="0.7"/>
<polyline points="199.00,79.00 200.38,79.11 200.70,79.82 200.02,81.10 199.48,82.30 200.06,82.87 201.55,82.92 202.77,83.12 202.83,83.98 202.06,85.30 201.70,86.40 202.54,86.82 204.08,86.84 205.10,87.15 204.91,88.15 204.13,89.49 203.99,90.46 205.05,90.75 206.59,90.77 207.38,91.23 206.97,92.35 206.22,93.66 206.33,94.49 207.59,94.67 209.07,94.73 209.59,95.33 209.01,96.55 208.36,97.81 208.73,98.49 210.14,98.59 211.50,98.71 211.76,99.46 211.05,100.75 210.54,101.93 211.18,102.46" fill="none" stroke="#e070b0" stroke-width="0.5" stroke-linejoin="round" stroke-linecap="round" opacity="0.7"/>
<polyline points="199.00,79.00 198.05,80.00 198.27,80.74 199.60,81.23 200.82,81.74 200.84,82.53 199.81,83.54 198.97,84.52 199.39,85.21 200.79,85.69 201.89,86.23 201.71,87.05 200.62,88.09 199.92,89.03 200.53,89.68 201.97,90.14 202.93,90.72 202.56,91.59 201.44,92.63" fill="none" stroke="#50c0c8" stroke-width="0.5" stroke-linejoin="round" stroke-linecap="round" opacity="0.7"/>
<polyline points="199.00,79.00 200.28,79.50 200.40,80.26 199.40,81.27 198.51,82.26 198.82,82.97 200.19,83.46 201.36,83.98 201.28,84.79 200.21,85.81 199.44,86.77 199.95,87.45 201.38,87.91 202.41,88.47 202.14,89.32 201.03,90.36 200.41,91.28 201.10,91.91 202.56,92.37" fill="none" stroke="#9080d8" stroke-width="0.5" stroke-linejoin="round" stroke-linecap="round" opacity="0.7"/>
<polyline points="186.00,99.00 186.65,100.25 187.46,100.21 188.39,99.04 189.29,98.12 190.04,98.58 190.67,100.00 191.37,100.92 192.22,100.42 193.17,99.15 194.03,98.62 194.72,99.51 195.36,100.94 196.10,101.43 197.00,100.54 197.94,99.35 198.74,99.29 199.40,100.51 200.05,101.78 200.85,101.78 201.78,100.62 202.69,99.68 203.44,100.10 204.07,101.52 204.76,102.46 205.61,101.99 206.56,100.72 207.42,100.17 208.12,101.03 208.75,102.47 209.49,102.98 210.39,102.11 211.33,100.91 212.14,100.82" fill="none" stroke="#70c070" stroke-width="0.5" stroke-linejoin="round" stroke-linecap="round" opacity="0.7"/>
<polyline points="186.00,99.00 186.92,97.94 187.69,98.15 188.34,99.50 189.01,100.60 189.84,100.33 190.78,99.09 191.66,98.35 192.38,99.04 193.01,100.48 193.73,101.20 194.61,100.49 195.55,99.24 196.39,98.93 197.06,100.01 197.70,101.38 198.47,101.62 199.39,100.58 200.31,99.50 201.09,99.68 201.73,101.02 202.40,102.14 203.23,101.90 204.17,100.66 205.06,99.90 205.78,100.55 206.41,102.00 207.12,102.74 208.00,102.06 208.94,100.81 209.78,100.47 210.46,101.53 211.10,102.90 211.86,103.18" fill="none" stroke="#d878b0" stroke-width="0.5" stroke-linejoin="round" stroke-linecap="round" opacity="0.7"/>
<polyline points="212.00,102.00 212.23,100.65 211.64,100.15 210.27,100.48 208.96,100.74 208.50,100.12 208.79,98.71 208.95,97.42 208.24,97.06 206.82,97.44 205.59,97.62 205.25,96.87 205.57,95.41 205.65,94.22 204.82,93.98 203.37,94.40 202.23,94.49 202.01,93.61 202.36,92.12" fill="none" stroke="#8898c0" stroke-width="0.5" stroke-linejoin="round" stroke-linecap="round" opacity="0.7"/>
<polyline points="212.00,102.00 210.66,102.30 210.13,101.74 210.39,100.35 210.59,99.03 209.94,98.60 208.54,98.96 207.27,99.19 206.87,98.50 207.18,97.06 207.30,95.82 206.53,95.52 205.09,95.92 203.91,96.06 203.63,95.24 203.97,93.77 204.00,92.63 203.10,92.45 201.64,92.88" fill="none" stroke="#60c8f0" stroke-width="0.5" stroke-linejoin="round" stroke-linecap="round" opacity="0.7"/>
<polyline points="202.00,92.50 200.84,91.72 200.15,92.11 199.89,93.56 199.55,94.82 198.72,94.84 197.49,93.92 196.43,93.38 195.88,94.13 195.66,95.67 195.22,96.66 194.24,96.34 193.00,95.38 192.06,95.14 191.64,96.21 191.42,97.74 190.84,98.39 189.74,97.78 188.53,96.89 187.73,97.01 187.42,98.32 187.15,99.73 186.42,100.03" fill="none" stroke="#6a78e0" stroke-width="0.5" stroke-linejoin="round" stroke-linecap="round" opacity="0.7"/>
<polyline points="202.00,92.50 201.71,93.87 200.94,94.07 199.75,93.21 198.63,92.54 198.01,93.11 197.78,94.62 197.39,95.75 196.48,95.60 195.25,94.65 194.24,94.25 193.76,95.16 193.54,96.71 193.03,97.54 191.99,97.06 190.76,96.13 189.89,96.06 189.53,97.26 189.29,98.75 188.63,99.22 187.49,98.49 186.31,97.67 185.58,97.97" fill="none" stroke="#e070b0" stroke-width="0.5" stroke-linejoin="round" stroke-linecap="round" opacity="0.7"/>
<line x1="99.10" y1="58.60" x2="99.10" y2="49.70" stroke="#e468dc" stroke-width="2.2"/>
<line x1="99.10" y1="49.70" x2="95.90" y2="46.10" stroke="#d868d8" stroke-width="1.9"/>
<line x1="99.10" y1="49.70" x2="102.30" y2="46.10" stroke="#d868d8" stroke-width="1.9"/>
<circle cx="97.8" cy="42.1" r="1.5" fill="#18b040"/>
<circle cx="100.4" cy="42.1" r="1.5" fill="#18b040"/>
<circle cx="99.1" cy="42.1" r="1.6" fill="#1c2ce0"/>
<circle cx="99.1" cy="44.5" r="2.5" fill="#ee1a22"/>
<line x1="94.70" y1="60.87" x2="88.74" y2="56.62" stroke="#e468dc" stroke-width="2.2"/>
<line x1="88.74" y1="56.62" x2="83.95" y2="57.13" stroke="#d868d8" stroke-width="1.9"/>
<line x1="88.74" y1="56.62" x2="87.66" y2="51.92" stroke="#d868d8" stroke-width="1.9"/>
<circle cx="81.8" cy="53.3" r="1.5" fill="#18b040"/>
<circle cx="83.3" cy="51.1" r="1.5" fill="#18b040"/>
<circle cx="82.5" cy="52.2" r="1.6" fill="#1c2ce0"/>
<circle cx="84.5" cy="53.6" r="2.5" fill="#ee1a22"/>
<line x1="104.15" y1="62.10" x2="109.63" y2="60.03" stroke="#e468dc" stroke-width="2.2"/>
<line x1="109.63" y1="60.03" x2="111.87" y2="55.77" stroke="#d868d8" stroke-width="1.9"/>
<line x1="109.63" y1="60.03" x2="114.13" y2="61.76" stroke="#d868d8" stroke-width="1.9"/>
<circle cx="116.3" cy="56.1" r="1.5" fill="#18b040"/>
<circle cx="117.2" cy="58.6" r="1.5" fill="#18b040"/>
<circle cx="116.7" cy="57.4" r="1.6" fill="#1c2ce0"/>
<circle cx="114.5" cy="58.2" r="2.5" fill="#ee1a22"/>
<circle cx="99.1" cy="64" r="5.4" fill="url(#gSph)"/>
<circle cx="99.1" cy="58.6" r="2.1" fill="#f2e21c"/>
<circle cx="94.7" cy="60.9" r="2.1" fill="#f2e21c"/>
<circle cx="104.2" cy="62.1" r="2.1" fill="#f2e21c"/>
<circle cx="99.1" cy="69.4" r="2.1" fill="#f2e21c"/>
<line x1="138.54" y1="31.58" x2="136.86" y2="21.53" stroke="#e468dc" stroke-width="2.2"/>
<line x1="136.86" y1="21.53" x2="133.11" y2="18.51" stroke="#d868d8" stroke-width="1.9"/>
<line x1="136.86" y1="21.53" x2="139.42" y2="17.45" stroke="#d868d8" stroke-width="1.9"/>
<circle cx="134.3" cy="14.2" r="1.5" fill="#18b040"/>
<circle cx="136.9" cy="13.8" r="1.5" fill="#18b040"/>
<circle cx="135.6" cy="14.0" r="1.6" fill="#1c2ce0"/>
<circle cx="136.0" cy="16.4" r="2.5" fill="#ee1a22"/>
<line x1="134.07" y1="35.25" x2="132.17" y2="34.53" stroke="#e468dc" stroke-width="2.2"/>
<line x1="132.17" y1="34.53" x2="127.67" y2="36.26" stroke="#d868d8" stroke-width="1.9"/>
<line x1="132.17" y1="34.53" x2="129.93" y2="30.27" stroke="#d868d8" stroke-width="1.9"/>
<circle cx="124.6" cy="33.1" r="1.5" fill="#18b040"/>
<circle cx="125.5" cy="30.6" r="1.5" fill="#18b040"/>
<circle cx="125.1" cy="31.9" r="1.6" fill="#1c2ce0"/>
<circle cx="127.3" cy="32.7" r="2.5" fill="#ee1a22"/>
<line x1="144.19" y1="33.89" x2="150.29" y2="29.46" stroke="#e468dc" stroke-width="2.2"/>
<line x1="150.29" y1="29.46" x2="151.32" y2="24.75" stroke="#d868d8" stroke-width="1.9"/>
<line x1="150.29" y1="29.46" x2="155.09" y2="29.93" stroke="#d868d8" stroke-width="1.9"/>
<circle cx="155.7" cy="23.9" r="1.5" fill="#18b040"/>
<circle cx="157.2" cy="26.0" r="1.5" fill="#18b040"/>
<circle cx="156.4" cy="25.0" r="1.6" fill="#1c2ce0"/>
<circle cx="154.5" cy="26.4" r="2.5" fill="#ee1a22"/>
<circle cx="139.5" cy="37.3" r="5.8" fill="url(#gSph)"/>
<circle cx="138.5" cy="31.6" r="2.1" fill="#f2e21c"/>
<circle cx="134.1" cy="35.3" r="2.1" fill="#f2e21c"/>
<circle cx="144.2" cy="33.9" r="2.1" fill="#f2e21c"/>
<circle cx="139.5" cy="43.1" r="2.1" fill="#f2e21c"/>
<line x1="161.80" y1="60.60" x2="161.38" y2="48.80" stroke="#e468dc" stroke-width="2.2"/>
<line x1="161.38" y1="48.80" x2="158.06" y2="45.31" stroke="#d868d8" stroke-width="1.9"/>
<line x1="161.38" y1="48.80" x2="164.45" y2="45.09" stroke="#d868d8" stroke-width="1.9"/>
<circle cx="159.8" cy="41.2" r="1.5" fill="#18b040"/>
<circle cx="162.4" cy="41.2" r="1.5" fill="#18b040"/>
<circle cx="161.1" cy="41.2" r="1.6" fill="#1c2ce0"/>
<circle cx="161.2" cy="43.6" r="2.5" fill="#ee1a22"/>
<line x1="157.25" y1="63.08" x2="150.66" y2="58.48" stroke="#e468dc" stroke-width="2.2"/>
<line x1="150.66" y1="58.48" x2="145.88" y2="59.04" stroke="#d868d8" stroke-width="1.9"/>
<line x1="150.66" y1="58.48" x2="149.54" y2="53.79" stroke="#d868d8" stroke-width="1.9"/>
<circle cx="143.7" cy="55.2" r="1.5" fill="#18b040"/>
<circle cx="145.2" cy="53.1" r="1.5" fill="#18b040"/>
<circle cx="144.4" cy="54.1" r="1.6" fill="#1c2ce0"/>
<circle cx="146.4" cy="55.5" r="2.5" fill="#ee1a22"/>
<line x1="167.37" y1="64.22" x2="175.18" y2="61.05" stroke="#e468dc" stroke-width="2.2"/>
<line x1="175.18" y1="61.05" x2="177.31" y2="56.74" stroke="#d868d8" stroke-width="1.9"/>
<line x1="175.18" y1="61.05" x2="179.72" y2="62.67" stroke="#d868d8" stroke-width="1.9"/>
<circle cx="181.7" cy="57.0" r="1.5" fill="#18b040"/>
<circle cx="182.7" cy="59.4" r="1.5" fill="#18b040"/>
<circle cx="182.2" cy="58.2" r="1.6" fill="#1c2ce0"/>
<circle cx="180.0" cy="59.1" r="2.5" fill="#ee1a22"/>
<circle cx="162" cy="66.4" r="5.8" fill="url(#gSph)"/>
<circle cx="161.8" cy="60.6" r="2.1" fill="#f2e21c"/>
<circle cx="157.2" cy="63.1" r="2.1" fill="#f2e21c"/>
<circle cx="167.4" cy="64.2" r="2.1" fill="#f2e21c"/>
<circle cx="162.0" cy="72.2" r="2.1" fill="#f2e21c"/>
<line x1="204.31" y1="47.10" x2="203.98" y2="37.90" stroke="#e468dc" stroke-width="2.2"/>
<line x1="203.98" y1="37.90" x2="200.66" y2="34.41" stroke="#d868d8" stroke-width="1.9"/>
<line x1="203.98" y1="37.90" x2="207.05" y2="34.19" stroke="#d868d8" stroke-width="1.9"/>
<circle cx="202.4" cy="30.3" r="1.5" fill="#18b040"/>
<circle cx="205.0" cy="30.3" r="1.5" fill="#18b040"/>
<circle cx="203.7" cy="30.3" r="1.6" fill="#1c2ce0"/>
<circle cx="203.8" cy="32.7" r="2.5" fill="#ee1a22"/>
<line x1="199.48" y1="50.69" x2="195.32" y2="49.28" stroke="#e468dc" stroke-width="2.2"/>
<line x1="195.32" y1="49.28" x2="190.88" y2="51.14" stroke="#d868d8" stroke-width="1.9"/>
<line x1="195.32" y1="49.28" x2="192.95" y2="45.09" stroke="#d868d8" stroke-width="1.9"/>
<circle cx="187.7" cy="48.1" r="1.5" fill="#18b040"/>
<circle cx="188.5" cy="45.6" r="1.5" fill="#18b040"/>
<circle cx="188.1" cy="46.8" r="1.6" fill="#1c2ce0"/>
<circle cx="190.4" cy="47.6" r="2.5" fill="#ee1a22"/>
<line x1="209.13" y1="49.83" x2="216.35" y2="45.82" stroke="#e468dc" stroke-width="2.2"/>
<line x1="216.35" y1="45.82" x2="217.95" y2="41.28" stroke="#d868d8" stroke-width="1.9"/>
<line x1="216.35" y1="45.82" x2="221.05" y2="46.87" stroke="#d868d8" stroke-width="1.9"/>
<circle cx="222.4" cy="41.0" r="1.5" fill="#18b040"/>
<circle cx="223.6" cy="43.3" r="1.5" fill="#18b040"/>
<circle cx="223.0" cy="42.1" r="1.6" fill="#1c2ce0"/>
<circle cx="220.9" cy="43.3" r="2.5" fill="#ee1a22"/>
<circle cx="204.5" cy="52.4" r="5.3" fill="url(#gSph)"/>
<circle cx="204.3" cy="47.1" r="2.1" fill="#f2e21c"/>
<circle cx="199.5" cy="50.7" r="2.1" fill="#f2e21c"/>
<circle cx="209.1" cy="49.8" r="2.1" fill="#f2e21c"/>
<circle cx="204.5" cy="57.7" r="2.1" fill="#f2e21c"/>
<circle cx="54.6" cy="13.9" r="1.4" fill="#18b040"/>
<circle cx="56.7" cy="15.1" r="1.4" fill="#18b040"/>
<circle cx="55.6" cy="14.5" r="1.5" fill="#1c2ce0"/>
<circle cx="54.5" cy="16.5" r="2.4" fill="#ee1a22"/>
<circle cx="126.5" cy="57.9" r="1.4" fill="#18b040"/>
<circle cx="128.6" cy="59.1" r="1.4" fill="#18b040"/>
<circle cx="127.5" cy="58.5" r="1.5" fill="#1c2ce0"/>
<circle cx="126.4" cy="60.5" r="2.4" fill="#ee1a22"/>
<circle cx="111.9" cy="69.2" r="1.4" fill="#18b040"/>
<circle cx="114.0" cy="70.4" r="1.4" fill="#18b040"/>
<circle cx="112.9" cy="69.8" r="1.5" fill="#1c2ce0"/>
<circle cx="111.8" cy="71.8" r="2.4" fill="#ee1a22"/>
<circle cx="180.3" cy="6.0" r="1.4" fill="#18b040"/>
<circle cx="182.4" cy="7.2" r="1.4" fill="#18b040"/>
<circle cx="181.3" cy="6.6" r="1.5" fill="#1c2ce0"/>
<circle cx="180.2" cy="8.6" r="2.4" fill="#ee1a22"/>
<circle cx="235.6" cy="8.4" r="1.4" fill="#18b040"/>
<circle cx="237.7" cy="9.6" r="1.4" fill="#18b040"/>
<circle cx="236.6" cy="9.0" r="1.5" fill="#1c2ce0"/>
<circle cx="235.5" cy="11.0" r="2.4" fill="#ee1a22"/>
<circle cx="231.9" cy="70.7" r="1.4" fill="#18b040"/>
<circle cx="234.0" cy="71.9" r="1.4" fill="#18b040"/>
<circle cx="232.9" cy="71.3" r="1.5" fill="#1c2ce0"/>
<circle cx="231.8" cy="73.3" r="2.4" fill="#ee1a22"/>
<text x="3.7" y="26.0" font-size="26" font-family="'Liberation Serif', 'Times New Roman', serif" fill="#111"><tspan stroke="#111" stroke-width="0.45">(</tspan><tspan font-weight="bold">a</tspan><tspan stroke="#111" stroke-width="0.45">)</tspan></text>
<text x="270.1" y="24.9" font-size="26" font-family="'Liberation Serif', 'Times New Roman', serif" fill="#111"><tspan stroke="#111" stroke-width="0.45">(</tspan><tspan font-weight="bold">b</tspan><tspan stroke="#111" stroke-width="0.45">)</tspan></text>
<text x="6.3" y="243.5" font-size="26" font-family="'Liberation Serif', 'Times New Roman', serif" fill="#111"><tspan stroke="#111" stroke-width="0.45">(</tspan><tspan font-weight="bold">c</tspan><tspan stroke="#111" stroke-width="0.45">)</tspan></text>
<text x="273.5" y="243.1" font-size="26" font-family="'Liberation Serif', 'Times New Roman', serif" fill="#111"><tspan stroke="#111" stroke-width="0.45">(</tspan><tspan font-weight="bold">d</tspan><tspan stroke="#111" stroke-width="0.45">)</tspan></text>
<rect x="328.2" y="15.9" width="215.00000000000006" height="160.29999999999998" fill="none" stroke="#606060" stroke-width="1"/>
<line x1="325.00" y1="176.20" x2="328.20" y2="176.20" stroke="#555" stroke-width="1"/>
<text transform="translate(316.95,179.50) scale(1.100,1)" font-size="11.8" font-family="'Liberation Sans', Arial, sans-serif" fill="#1a1a1a" stroke="#1a1a1a" stroke-width="0.27">0</text>
<line x1="326.40" y1="160.17" x2="328.20" y2="160.17" stroke="#555" stroke-width="1"/>
<line x1="325.00" y1="144.15" x2="328.20" y2="144.15" stroke="#555" stroke-width="1"/>
<text transform="translate(309.81,147.45) scale(1.100,1)" font-size="11.8" font-family="'Liberation Sans', Arial, sans-serif" fill="#1a1a1a" stroke="#1a1a1a" stroke-width="0.27">20</text>
<line x1="326.40" y1="128.12" x2="328.20" y2="128.12" stroke="#555" stroke-width="1"/>
<line x1="325.00" y1="112.10" x2="328.20" y2="112.10" stroke="#555" stroke-width="1"/>
<text transform="translate(309.81,115.40) scale(1.100,1)" font-size="11.8" font-family="'Liberation Sans', Arial, sans-serif" fill="#1a1a1a" stroke="#1a1a1a" stroke-width="0.27">40</text>
<line x1="326.40" y1="96.07" x2="328.20" y2="96.07" stroke="#555" stroke-width="1"/>
<line x1="325.00" y1="80.05" x2="328.20" y2="80.05" stroke="#555" stroke-width="1"/>
<text transform="translate(309.81,83.35) scale(1.100,1)" font-size="11.8" font-family="'Liberation Sans', Arial, sans-serif" fill="#1a1a1a" stroke="#1a1a1a" stroke-width="0.27">60</text>
<line x1="326.40" y1="64.02" x2="328.20" y2="64.02" stroke="#555" stroke-width="1"/>
<line x1="325.00" y1="48.00" x2="328.20" y2="48.00" stroke="#555" stroke-width="1"/>
<text transform="translate(309.81,51.30) scale(1.100,1)" font-size="11.8" font-family="'Liberation Sans', Arial, sans-serif" fill="#1a1a1a" stroke="#1a1a1a" stroke-width="0.27">80</text>
<line x1="326.40" y1="31.97" x2="328.20" y2="31.97" stroke="#555" stroke-width="1"/>
<line x1="325.00" y1="15.95" x2="328.20" y2="15.95" stroke="#555" stroke-width="1"/>
<text transform="translate(302.54,19.25) scale(1.100,1)" font-size="11.8" font-family="'Liberation Sans', Arial, sans-serif" fill="#1a1a1a" stroke="#1a1a1a" stroke-width="0.27">100</text>
<line x1="334.90" y1="176.20" x2="334.90" y2="179.40" stroke="#555" stroke-width="1"/>
<line x1="342.11" y1="176.20" x2="342.11" y2="177.80" stroke="#666" stroke-width="1"/>
<line x1="346.32" y1="176.20" x2="346.32" y2="177.80" stroke="#666" stroke-width="1"/>
<line x1="349.31" y1="176.20" x2="349.31" y2="177.80" stroke="#666" stroke-width="1"/>
<line x1="351.63" y1="176.20" x2="351.63" y2="177.80" stroke="#666" stroke-width="1"/>
<line x1="353.53" y1="176.20" x2="353.53" y2="177.80" stroke="#666" stroke-width="1"/>
<line x1="355.13" y1="176.20" x2="355.13" y2="177.80" stroke="#666" stroke-width="1"/>
<line x1="356.52" y1="176.20" x2="356.52" y2="177.80" stroke="#666" stroke-width="1"/>
<line x1="357.74" y1="176.20" x2="357.74" y2="177.80" stroke="#666" stroke-width="1"/>
<line x1="358.84" y1="176.20" x2="358.84" y2="179.40" stroke="#555" stroke-width="1"/>
<line x1="366.05" y1="176.20" x2="366.05" y2="177.80" stroke="#666" stroke-width="1"/>
<line x1="370.26" y1="176.20" x2="370.26" y2="177.80" stroke="#666" stroke-width="1"/>
<line x1="373.25" y1="176.20" x2="373.25" y2="177.80" stroke="#666" stroke-width="1"/>
<line x1="375.57" y1="176.20" x2="375.57" y2="177.80" stroke="#666" stroke-width="1"/>
<line x1="377.47" y1="176.20" x2="377.47" y2="177.80" stroke="#666" stroke-width="1"/>
<line x1="379.07" y1="176.20" x2="379.07" y2="177.80" stroke="#666" stroke-width="1"/>
<line x1="380.46" y1="176.20" x2="380.46" y2="177.80" stroke="#666" stroke-width="1"/>
<line x1="381.68" y1="176.20" x2="381.68" y2="177.80" stroke="#666" stroke-width="1"/>
<line x1="382.78" y1="176.20" x2="382.78" y2="179.40" stroke="#555" stroke-width="1"/>
<line x1="389.99" y1="176.20" x2="389.99" y2="177.80" stroke="#666" stroke-width="1"/>
<line x1="394.20" y1="176.20" x2="394.20" y2="177.80" stroke="#666" stroke-width="1"/>
<line x1="397.19" y1="176.20" x2="397.19" y2="177.80" stroke="#666" stroke-width="1"/>
<line x1="399.51" y1="176.20" x2="399.51" y2="177.80" stroke="#666" stroke-width="1"/>
<line x1="401.41" y1="176.20" x2="401.41" y2="177.80" stroke="#666" stroke-width="1"/>
<line x1="403.01" y1="176.20" x2="403.01" y2="177.80" stroke="#666" stroke-width="1"/>
<line x1="404.40" y1="176.20" x2="404.40" y2="177.80" stroke="#666" stroke-width="1"/>
<line x1="405.62" y1="176.20" x2="405.62" y2="177.80" stroke="#666" stroke-width="1"/>
<line x1="406.72" y1="176.20" x2="406.72" y2="179.40" stroke="#555" stroke-width="1"/>
<line x1="413.93" y1="176.20" x2="413.93" y2="177.80" stroke="#666" stroke-width="1"/>
<line x1="418.14" y1="176.20" x2="418.14" y2="177.80" stroke="#666" stroke-width="1"/>
<line x1="421.13" y1="176.20" x2="421.13" y2="177.80" stroke="#666" stroke-width="1"/>
<line x1="423.45" y1="176.20" x2="423.45" y2="177.80" stroke="#666" stroke-width="1"/>
<line x1="425.35" y1="176.20" x2="425.35" y2="177.80" stroke="#666" stroke-width="1"/>
<line x1="426.95" y1="176.20" x2="426.95" y2="177.80" stroke="#666" stroke-width="1"/>
<line x1="428.34" y1="176.20" x2="428.34" y2="177.80" stroke="#666" stroke-width="1"/>
<line x1="429.56" y1="176.20" x2="429.56" y2="177.80" stroke="#666" stroke-width="1"/>
<line x1="430.66" y1="176.20" x2="430.66" y2="179.40" stroke="#555" stroke-width="1"/>
<line x1="437.87" y1="176.20" x2="437.87" y2="177.80" stroke="#666" stroke-width="1"/>
<line x1="442.08" y1="176.20" x2="442.08" y2="177.80" stroke="#666" stroke-width="1"/>
<line x1="445.07" y1="176.20" x2="445.07" y2="177.80" stroke="#666" stroke-width="1"/>
<line x1="447.39" y1="176.20" x2="447.39" y2="177.80" stroke="#666" stroke-width="1"/>
<line x1="449.29" y1="176.20" x2="449.29" y2="177.80" stroke="#666" stroke-width="1"/>
<line x1="450.89" y1="176.20" x2="450.89" y2="177.80" stroke="#666" stroke-width="1"/>
<line x1="452.28" y1="176.20" x2="452.28" y2="177.80" stroke="#666" stroke-width="1"/>
<line x1="453.50" y1="176.20" x2="453.50" y2="177.80" stroke="#666" stroke-width="1"/>
<line x1="454.60" y1="176.20" x2="454.60" y2="179.40" stroke="#555" stroke-width="1"/>
<line x1="461.81" y1="176.20" x2="461.81" y2="177.80" stroke="#666" stroke-width="1"/>
<line x1="466.02" y1="176.20" x2="466.02" y2="177.80" stroke="#666" stroke-width="1"/>
<line x1="469.01" y1="176.20" x2="469.01" y2="177.80" stroke="#666" stroke-width="1"/>
<line x1="471.33" y1="176.20" x2="471.33" y2="177.80" stroke="#666" stroke-width="1"/>
<line x1="473.23" y1="176.20" x2="473.23" y2="177.80" stroke="#666" stroke-width="1"/>
<line x1="474.83" y1="176.20" x2="474.83" y2="177.80" stroke="#666" stroke-width="1"/>
<line x1="476.22" y1="176.20" x2="476.22" y2="177.80" stroke="#666" stroke-width="1"/>
<line x1="477.44" y1="176.20" x2="477.44" y2="177.80" stroke="#666" stroke-width="1"/>
<line x1="478.54" y1="176.20" x2="478.54" y2="179.40" stroke="#555" stroke-width="1"/>
<line x1="485.75" y1="176.20" x2="485.75" y2="177.80" stroke="#666" stroke-width="1"/>
<line x1="489.96" y1="176.20" x2="489.96" y2="177.80" stroke="#666" stroke-width="1"/>
<line x1="492.95" y1="176.20" x2="492.95" y2="177.80" stroke="#666" stroke-width="1"/>
<line x1="495.27" y1="176.20" x2="495.27" y2="177.80" stroke="#666" stroke-width="1"/>
<line x1="497.17" y1="176.20" x2="497.17" y2="177.80" stroke="#666" stroke-width="1"/>
<line x1="498.77" y1="176.20" x2="498.77" y2="177.80" stroke="#666" stroke-width="1"/>
<line x1="500.16" y1="176.20" x2="500.16" y2="177.80" stroke="#666" stroke-width="1"/>
<line x1="501.38" y1="176.20" x2="501.38" y2="177.80" stroke="#666" stroke-width="1"/>
<line x1="502.48" y1="176.20" x2="502.48" y2="179.40" stroke="#555" stroke-width="1"/>
<line x1="509.69" y1="176.20" x2="509.69" y2="177.80" stroke="#666" stroke-width="1"/>
<line x1="513.90" y1="176.20" x2="513.90" y2="177.80" stroke="#666" stroke-width="1"/>
<line x1="516.89" y1="176.20" x2="516.89" y2="177.80" stroke="#666" stroke-width="1"/>
<line x1="519.21" y1="176.20" x2="519.21" y2="177.80" stroke="#666" stroke-width="1"/>
<line x1="521.11" y1="176.20" x2="521.11" y2="177.80" stroke="#666" stroke-width="1"/>
<line x1="522.71" y1="176.20" x2="522.71" y2="177.80" stroke="#666" stroke-width="1"/>
<line x1="524.10" y1="176.20" x2="524.10" y2="177.80" stroke="#666" stroke-width="1"/>
<line x1="525.32" y1="176.20" x2="525.32" y2="177.80" stroke="#666" stroke-width="1"/>
<line x1="526.42" y1="176.20" x2="526.42" y2="179.40" stroke="#555" stroke-width="1"/>
<text transform="translate(330.41,190.60) scale(0.938,1)" font-size="11.8" font-family="'Liberation Sans', Arial, sans-serif" fill="#1a1a1a" stroke="#1a1a1a" stroke-width="0.32">1f</text>
<text transform="translate(350.92,190.60) scale(1.042,1)" font-size="11.8" font-family="'Liberation Sans', Arial, sans-serif" fill="#1a1a1a" stroke="#1a1a1a" stroke-width="0.29">10f</text>
<text transform="translate(370.83,190.60) scale(1.128,1)" font-size="11.8" font-family="'Liberation Sans', Arial, sans-serif" fill="#1a1a1a" stroke="#1a1a1a" stroke-width="0.27">100f</text>
<text transform="translate(400.57,190.60) scale(0.984,1)" font-size="11.8" font-family="'Liberation Sans', Arial, sans-serif" fill="#1a1a1a" stroke="#1a1a1a" stroke-width="0.30">1p</text>
<text transform="translate(417.83,190.60) scale(0.919,1)" font-size="11.8" font-family="'Liberation Sans', Arial, sans-serif" fill="#1a1a1a" stroke="#1a1a1a" stroke-width="0.33">10p</text>
<text transform="translate(440.87,190.60) scale(1.094,1)" font-size="11.8" font-family="'Liberation Sans', Arial, sans-serif" fill="#1a1a1a" stroke="#1a1a1a" stroke-width="0.27">100p</text>
<text transform="translate(472.52,190.60) scale(1.040,1)" font-size="11.8" font-family="'Liberation Sans', Arial, sans-serif" fill="#1a1a1a" stroke="#1a1a1a" stroke-width="0.29">1n</text>
<text transform="translate(490.32,190.60) scale(1.143,1)" font-size="11.8" font-family="'Liberation Sans', Arial, sans-serif" fill="#1a1a1a" stroke="#1a1a1a" stroke-width="0.26">10n</text>
<text transform="translate(514.09,190.60) scale(1.067,1)" font-size="11.8" font-family="'Liberation Sans', Arial, sans-serif" fill="#1a1a1a" stroke="#1a1a1a" stroke-width="0.28">100n</text>
<line x1="334.90" y1="112.16" x2="526.42" y2="33.92" stroke="#ec2222" stroke-width="1.3"/>
<line x1="334.90" y1="120.75" x2="334.90" y2="107.93" stroke="#a0a0a0" stroke-width="0.8"/>
<line x1="333.40" y1="107.93" x2="336.40" y2="107.93" stroke="#a0a0a0" stroke-width="0.8"/>
<line x1="333.40" y1="120.75" x2="336.40" y2="120.75" stroke="#a0a0a0" stroke-width="0.8"/>
<rect x="332.80" y="112.24" width="4.2" height="4.2" fill="#111"/>
<line x1="358.84" y1="121.71" x2="358.84" y2="102.48" stroke="#a0a0a0" stroke-width="0.8"/>
<line x1="357.34" y1="102.48" x2="360.34" y2="102.48" stroke="#a0a0a0" stroke-width="0.8"/>
<line x1="357.34" y1="121.71" x2="360.34" y2="121.71" stroke="#a0a0a0" stroke-width="0.8"/>
<rect x="356.74" y="110.00" width="4.2" height="4.2" fill="#111"/>
<line x1="382.78" y1="102.65" x2="382.78" y2="97.84" stroke="#a0a0a0" stroke-width="0.8"/>
<line x1="381.28" y1="97.84" x2="384.28" y2="97.84" stroke="#a0a0a0" stroke-width="0.8"/>
<line x1="381.28" y1="102.65" x2="384.28" y2="102.65" stroke="#a0a0a0" stroke-width="0.8"/>
<rect x="380.68" y="98.14" width="4.2" height="4.2" fill="#111"/>
<line x1="406.72" y1="81.17" x2="406.72" y2="69.95" stroke="#a0a0a0" stroke-width="0.8"/>
<line x1="405.22" y1="69.95" x2="408.22" y2="69.95" stroke="#a0a0a0" stroke-width="0.8"/>
<line x1="405.22" y1="81.17" x2="408.22" y2="81.17" stroke="#a0a0a0" stroke-width="0.8"/>
<rect x="404.62" y="73.46" width="4.2" height="4.2" fill="#111"/>
<line x1="430.66" y1="68.03" x2="430.66" y2="63.22" stroke="#a0a0a0" stroke-width="0.8"/>
<line x1="429.16" y1="63.22" x2="432.16" y2="63.22" stroke="#a0a0a0" stroke-width="0.8"/>
<line x1="429.16" y1="68.03" x2="432.16" y2="68.03" stroke="#a0a0a0" stroke-width="0.8"/>
<rect x="428.56" y="63.53" width="4.2" height="4.2" fill="#111"/>
<line x1="454.60" y1="59.06" x2="454.60" y2="52.65" stroke="#a0a0a0" stroke-width="0.8"/>
<line x1="453.10" y1="52.65" x2="456.10" y2="52.65" stroke="#a0a0a0" stroke-width="0.8"/>
<line x1="453.10" y1="59.06" x2="456.10" y2="59.06" stroke="#a0a0a0" stroke-width="0.8"/>
<rect x="452.50" y="53.75" width="4.2" height="4.2" fill="#111"/>
<line x1="478.54" y1="52.97" x2="478.54" y2="49.12" stroke="#a0a0a0" stroke-width="0.8"/>
<line x1="477.04" y1="49.12" x2="480.04" y2="49.12" stroke="#a0a0a0" stroke-width="0.8"/>
<line x1="477.04" y1="52.97" x2="480.04" y2="52.97" stroke="#a0a0a0" stroke-width="0.8"/>
<rect x="476.44" y="48.94" width="4.2" height="4.2" fill="#111"/>
<line x1="502.48" y1="45.44" x2="502.48" y2="42.87" stroke="#a0a0a0" stroke-width="0.8"/>
<line x1="500.98" y1="42.87" x2="503.98" y2="42.87" stroke="#a0a0a0" stroke-width="0.8"/>
<line x1="500.98" y1="45.44" x2="503.98" y2="45.44" stroke="#a0a0a0" stroke-width="0.8"/>
<rect x="500.38" y="42.05" width="4.2" height="4.2" fill="#111"/>
<line x1="526.42" y1="36.30" x2="526.42" y2="34.38" stroke="#a0a0a0" stroke-width="0.8"/>
<line x1="524.92" y1="34.38" x2="527.92" y2="34.38" stroke="#a0a0a0" stroke-width="0.8"/>
<line x1="524.92" y1="36.30" x2="527.92" y2="36.30" stroke="#a0a0a0" stroke-width="0.8"/>
<rect x="524.32" y="33.24" width="4.2" height="4.2" fill="#111"/>
<rect x="356.20" y="29.90" width="3.8" height="3.8" fill="#111"/>
<text transform="translate(375.36,35.60) scale(1.054,1)" font-size="12.3" font-family="'Liberation Sans', Arial, sans-serif" fill="#1a1a1a" stroke="#1a1a1a" stroke-width="0.28">Mean</text>
<text transform="translate(425.30,138.90) scale(1.122,1)" font-size="11.8" font-family="'Liberation Sans', Arial, sans-serif" fill="#1a1a1a" stroke="#1a1a1a" stroke-width="0.18">y=131.505+6.103x</text>
<text transform="translate(447.87,157.40) scale(1.092,1)" font-size="11.8" font-family="'Liberation Sans', Arial, sans-serif" fill="#1a1a1a" stroke="#1a1a1a" stroke-width="0.27">R</text>
<text transform="translate(457.42,151.20) scale(0.831,1)" font-size="6.8" font-family="'Liberation Sans', Arial, sans-serif" fill="#1a1a1a" stroke="#1a1a1a" stroke-width="0.36">2</text>
<text transform="translate(461.15,157.40) scale(1.094,1)" font-size="11.8" font-family="'Liberation Sans', Arial, sans-serif" fill="#1a1a1a" stroke="#1a1a1a" stroke-width="0.27">=0.959</text>
<g transform="translate(290.2,135.3) rotate(-90)"><text transform="scale(1.08,1)" font-size="14.2" fill="#1a1a1a" stroke="#1a1a1a" stroke-width="0.3" font-family="'Liberation Sans', Arial, sans-serif">ΔI/I<tspan font-size="9" dy="4.2">0</tspan><tspan dy="-4.2"> %</tspan></text></g>
<text transform="translate(387.50,214.80) scale(1.028,1)" font-size="15.6" font-family="'Liberation Sans', Arial, sans-serif" fill="#1a1a1a" stroke="#1a1a1a" stroke-width="0.29">C</text>
<text transform="translate(400.20,221.00) scale(1.109,1)" font-size="9.4" font-family="'Liberation Sans', Arial, sans-serif" fill="#1a1a1a" stroke="#1a1a1a" stroke-width="0.27">Ag-PSA</text>
<text transform="translate(439.36,215.40) scale(1.135,1)" font-size="15.2" font-family="'Liberation Sans', Arial, sans-serif" fill="#1a1a1a" stroke="#1a1a1a" stroke-width="0.26">(g/mL)</text>
<line x1="64.00" y1="395.30" x2="75.00" y2="395.30" stroke="#c4c4f0" stroke-width="1"/>
<line x1="95.00" y1="395.30" x2="103.00" y2="395.30" stroke="#c4c4f0" stroke-width="1"/>
<line x1="120.00" y1="395.30" x2="129.00" y2="395.30" stroke="#c4c4f0" stroke-width="1"/>
<line x1="146.00" y1="395.30" x2="156.00" y2="395.30" stroke="#c4c4f0" stroke-width="1"/>
<line x1="173.00" y1="395.30" x2="184.00" y2="395.30" stroke="#c4c4f0" stroke-width="1"/>
<line x1="201.00" y1="395.30" x2="210.00" y2="395.30" stroke="#c4c4f0" stroke-width="1"/>
<line x1="228.00" y1="395.30" x2="237.00" y2="395.30" stroke="#c4c4f0" stroke-width="1"/>
<rect x="60.6" y="249.2" width="213.00000000000003" height="158.8" fill="none" stroke="#606060" stroke-width="1"/>
<line x1="57.40" y1="408.00" x2="60.60" y2="408.00" stroke="#555" stroke-width="1"/>
<text transform="translate(38.40,411.70) scale(1.080,1)" font-size="12.0" font-family="'Liberation Sans', Arial, sans-serif" fill="#1a1a1a" stroke="#1a1a1a" stroke-width="0.28">0.0</text>
<line x1="57.40" y1="368.27" x2="60.60" y2="368.27" stroke="#555" stroke-width="1"/>
<text transform="translate(38.40,371.97) scale(1.080,1)" font-size="12.0" font-family="'Liberation Sans', Arial, sans-serif" fill="#1a1a1a" stroke="#1a1a1a" stroke-width="0.28">0.5</text>
<line x1="57.40" y1="328.55" x2="60.60" y2="328.55" stroke="#555" stroke-width="1"/>
<text transform="translate(38.40,332.25) scale(1.080,1)" font-size="12.0" font-family="'Liberation Sans', Arial, sans-serif" fill="#1a1a1a" stroke="#1a1a1a" stroke-width="0.28">1.0</text>
<line x1="57.40" y1="288.82" x2="60.60" y2="288.82" stroke="#555" stroke-width="1"/>
<text transform="translate(38.40,292.52) scale(1.080,1)" font-size="12.0" font-family="'Liberation Sans', Arial, sans-serif" fill="#1a1a1a" stroke="#1a1a1a" stroke-width="0.28">1.5</text>
<line x1="57.40" y1="249.10" x2="60.60" y2="249.10" stroke="#555" stroke-width="1"/>
<text transform="translate(38.40,252.80) scale(1.080,1)" font-size="12.0" font-family="'Liberation Sans', Arial, sans-serif" fill="#1a1a1a" stroke="#1a1a1a" stroke-width="0.28">2.0</text>
<line x1="60.50" y1="408.00" x2="60.50" y2="411.20" stroke="#555" stroke-width="1"/>
<text transform="translate(56.93,423.00) scale(1.080,1)" font-size="11.8" font-family="'Liberation Sans', Arial, sans-serif" fill="#1a1a1a" stroke="#1a1a1a" stroke-width="0.28">0</text>
<line x1="74.71" y1="408.00" x2="74.71" y2="409.80" stroke="#555" stroke-width="1"/>
<line x1="88.93" y1="408.00" x2="88.93" y2="411.20" stroke="#555" stroke-width="1"/>
<text transform="translate(81.79,423.00) scale(1.080,1)" font-size="11.8" font-family="'Liberation Sans', Arial, sans-serif" fill="#1a1a1a" stroke="#1a1a1a" stroke-width="0.28">60</text>
<line x1="103.14" y1="408.00" x2="103.14" y2="409.80" stroke="#555" stroke-width="1"/>
<line x1="117.36" y1="408.00" x2="117.36" y2="411.20" stroke="#555" stroke-width="1"/>
<text transform="translate(106.46,423.00) scale(1.080,1)" font-size="11.8" font-family="'Liberation Sans', Arial, sans-serif" fill="#1a1a1a" stroke="#1a1a1a" stroke-width="0.28">120</text>
<line x1="131.57" y1="408.00" x2="131.57" y2="409.80" stroke="#555" stroke-width="1"/>
<line x1="145.79" y1="408.00" x2="145.79" y2="411.20" stroke="#555" stroke-width="1"/>
<text transform="translate(134.89,423.00) scale(1.080,1)" font-size="11.8" font-family="'Liberation Sans', Arial, sans-serif" fill="#1a1a1a" stroke="#1a1a1a" stroke-width="0.28">180</text>
<line x1="160.00" y1="408.00" x2="160.00" y2="409.80" stroke="#555" stroke-width="1"/>
<line x1="174.21" y1="408.00" x2="174.21" y2="411.20" stroke="#555" stroke-width="1"/>
<text transform="translate(163.51,423.00) scale(1.080,1)" font-size="11.8" font-family="'Liberation Sans', Arial, sans-serif" fill="#1a1a1a" stroke="#1a1a1a" stroke-width="0.28">240</text>
<line x1="188.43" y1="408.00" x2="188.43" y2="409.80" stroke="#555" stroke-width="1"/>
<line x1="202.64" y1="408.00" x2="202.64" y2="411.20" stroke="#555" stroke-width="1"/>
<text transform="translate(192.00,423.00) scale(1.080,1)" font-size="11.8" font-family="'Liberation Sans', Arial, sans-serif" fill="#1a1a1a" stroke="#1a1a1a" stroke-width="0.28">300</text>
<line x1="216.86" y1="408.00" x2="216.86" y2="409.80" stroke="#555" stroke-width="1"/>
<line x1="231.07" y1="408.00" x2="231.07" y2="411.20" stroke="#555" stroke-width="1"/>
<text transform="translate(220.43,423.00) scale(1.080,1)" font-size="11.8" font-family="'Liberation Sans', Arial, sans-serif" fill="#1a1a1a" stroke="#1a1a1a" stroke-width="0.28">360</text>
<line x1="245.29" y1="408.00" x2="245.29" y2="409.80" stroke="#555" stroke-width="1"/>
<line x1="259.50" y1="408.00" x2="259.50" y2="411.20" stroke="#555" stroke-width="1"/>
<text transform="translate(248.99,423.00) scale(1.080,1)" font-size="11.8" font-family="'Liberation Sans', Arial, sans-serif" fill="#1a1a1a" stroke="#1a1a1a" stroke-width="0.28">420</text>
<text transform="translate(131.56,446.00) scale(1.076,1)" font-size="15.8" font-family="'Liberation Sans', Arial, sans-serif" fill="#1a1a1a" stroke="#1a1a1a" stroke-width="0.28">Time (min)</text>
<g transform="translate(27.0,363.6) rotate(-90)"><text transform="scale(1.1,1)" font-size="15.4" fill="#1a1a1a" stroke="#1a1a1a" stroke-width="0.3" font-family="'Liberation Sans', Arial, sans-serif">I<tspan font-size="8.2" dy="6.2">ds</tspan><tspan dy="-6.2">(μA)</tspan></text></g>
<text transform="translate(63.91,264.80) scale(1.100,1)" font-size="11.0" font-family="'Liberation Sans', Arial, sans-serif" fill="#1a1a1a" stroke="#1a1a1a" stroke-width="0.27">I</text>
<text transform="translate(67.62,269.30) scale(1.000,1)" font-size="7.0" font-family="'Liberation Sans', Arial, sans-serif" fill="#1a1a1a" stroke="#1a1a1a" stroke-width="0.30">0</text>
<text transform="translate(90.68,265.80) scale(1.000,1)" font-size="11.8" font-family="'Liberation Sans', Arial, sans-serif" fill="#1a1a1a" stroke="#1a1a1a" stroke-width="0.30">V</text>
<text transform="translate(98.22,270.90) scale(1.051,1)" font-size="6.6" font-family="'Liberation Sans', Arial, sans-serif" fill="#1a1a1a" stroke="#1a1a1a" stroke-width="0.29">ds</text>
<text transform="translate(106.14,265.80) scale(1.112,1)" font-size="11.8" font-family="'Liberation Sans', Arial, sans-serif" fill="#1a1a1a" stroke="#1a1a1a" stroke-width="0.27">=0.5V</text>
<text transform="translate(184.40,281.00) scale(1.046,1)" font-size="12.0" font-family="'Liberation Sans', Arial, sans-serif" fill="#1a1a1a" stroke="#1a1a1a" stroke-width="0.29">BSA</text>
<text transform="translate(222.69,281.00) scale(1.055,1)" font-size="12.0" font-family="'Liberation Sans', Arial, sans-serif" fill="#1a1a1a" stroke="#1a1a1a" stroke-width="0.28">PSA</text>
<line x1="215.10" y1="271.20" x2="215.10" y2="278.10" stroke="#2a3cf0" stroke-width="1.1"/>
<polygon points="213.1,277.6 217.1,277.6 215.1,282.1" fill="#2a3cf0"/>
<line x1="254.30" y1="271.20" x2="254.30" y2="278.50" stroke="#f0282a" stroke-width="1.1"/>
<polygon points="252.3,278.0 256.3,278.0 254.3,282.5" fill="#f0282a"/>
<line x1="78.30" y1="303.60" x2="78.30" y2="310.20" stroke="#f0282a" stroke-width="1.1"/>
<polygon points="76.3,309.7 80.3,309.7 78.3,314.2" fill="#f0282a"/>
<line x1="94.90" y1="308.40" x2="94.90" y2="316.70" stroke="#f0282a" stroke-width="1.1"/>
<polygon points="92.9,316.2 96.9,316.2 94.9,320.7" fill="#f0282a"/>
<line x1="105.50" y1="319.20" x2="105.50" y2="325.80" stroke="#f0282a" stroke-width="1.1"/>
<polygon points="103.5,325.3 107.5,325.3 105.5,329.8" fill="#f0282a"/>
<line x1="128.40" y1="337.50" x2="128.40" y2="344.00" stroke="#f0282a" stroke-width="1.1"/>
<polygon points="126.4,343.5 130.4,343.5 128.4,348.0" fill="#f0282a"/>
<line x1="155.00" y1="349.00" x2="155.00" y2="355.60" stroke="#f0282a" stroke-width="1.1"/>
<polygon points="153.0,355.1 157.0,355.1 155.0,359.6" fill="#f0282a"/>
<line x1="173.20" y1="360.10" x2="173.20" y2="366.60" stroke="#f0282a" stroke-width="1.1"/>
<polygon points="171.2,366.1 175.2,366.1 173.2,370.6" fill="#f0282a"/>
<line x1="196.90" y1="362.80" x2="196.90" y2="369.00" stroke="#f0282a" stroke-width="1.1"/>
<polygon points="194.9,368.5 198.9,368.5 196.9,373.0" fill="#f0282a"/>
<line x1="219.90" y1="369.80" x2="219.90" y2="376.50" stroke="#f0282a" stroke-width="1.1"/>
<polygon points="217.9,376.0 221.9,376.0 219.9,380.5" fill="#f0282a"/>
<line x1="238.20" y1="378.20" x2="238.20" y2="385.20" stroke="#f0282a" stroke-width="1.1"/>
<polygon points="236.2,384.7 240.2,384.7 238.2,389.2" fill="#f0282a"/>
<line x1="257.10" y1="382.70" x2="257.10" y2="390.00" stroke="#2a3cf0" stroke-width="1.1"/>
<polygon points="255.1,389.5 259.1,389.5 257.1,394.0" fill="#2a3cf0"/>
<line x1="261.00" y1="404.00" x2="261.00" y2="400.50" stroke="#2a3cf0" stroke-width="1.1"/>
<polygon points="259.0,401.0 263.0,401.0 261.0,396.5" fill="#2a3cf0"/>
<line x1="62.70" y1="386.60" x2="62.70" y2="375.30" stroke="#4a5cf5" stroke-width="1.1"/>
<polygon points="61.1,375.8 64.3,375.8 62.7,371.3" fill="#4a5cf5"/>
<text transform="translate(71.32,299.30) scale(1.022,1)" font-size="12.0" font-family="'Liberation Sans', Arial, sans-serif" fill="#1a1a1a" stroke="#1a1a1a" stroke-width="0.29">1f</text>
<text transform="translate(86.91,303.30) scale(1.031,1)" font-size="12.0" font-family="'Liberation Sans', Arial, sans-serif" fill="#1a1a1a" stroke="#1a1a1a" stroke-width="0.29">10f</text>
<text transform="translate(104.01,320.60) scale(1.034,1)" font-size="12.0" font-family="'Liberation Sans', Arial, sans-serif" fill="#1a1a1a" stroke="#1a1a1a" stroke-width="0.29">100f</text>
<text transform="translate(127.66,336.00) scale(0.976,1)" font-size="12.0" font-family="'Liberation Sans', Arial, sans-serif" fill="#1a1a1a" stroke="#1a1a1a" stroke-width="0.31">1p</text>
<text transform="translate(145.04,341.50) scale(1.000,1)" font-size="12.0" font-family="'Liberation Sans', Arial, sans-serif" fill="#1a1a1a" stroke="#1a1a1a" stroke-width="0.30">10p</text>
<text transform="translate(162.81,358.40) scale(1.036,1)" font-size="12.0" font-family="'Liberation Sans', Arial, sans-serif" fill="#1a1a1a" stroke="#1a1a1a" stroke-width="0.29">100p</text>
<text transform="translate(195.78,359.70) scale(0.954,1)" font-size="12.0" font-family="'Liberation Sans', Arial, sans-serif" fill="#1a1a1a" stroke="#1a1a1a" stroke-width="0.31">1n</text>
<text transform="translate(212.19,368.20) scale(1.047,1)" font-size="12.0" font-family="'Liberation Sans', Arial, sans-serif" fill="#1a1a1a" stroke="#1a1a1a" stroke-width="0.29">10n</text>
<text transform="translate(233.79,377.40) scale(1.050,1)" font-size="12.0" font-family="'Liberation Sans', Arial, sans-serif" fill="#1a1a1a" stroke="#1a1a1a" stroke-width="0.29">100n</text>
<polyline points="61.20,366.00 61.60,352.00 62.20,330.00 62.80,290.00 63.20,271.00 64.00,270.00 64.60,274.00 65.30,270.00 66.00,272.00 66.50,300.00 67.00,325.00 68.70,351.40 69.90,355.99 71.10,361.20 72.20,364.52 73.30,367.58 74.40,371.00 75.65,374.42 76.90,377.60 78.50,379.30 79.30,385.00 79.60,370.00 80.00,330.00 80.40,314.50 81.50,314.00 82.60,318.00 83.50,335.00 84.20,344.80 85.90,364.50 87.10,368.75 88.30,372.70 90.00,376.00 91.60,385.80 92.85,388.58 94.10,392.40 95.70,393.20 96.20,370.00 96.50,330.00 96.80,317.00 97.40,318.00 97.80,335.00 98.20,356.30 99.80,372.70 101.40,380.00 102.50,379.98 103.60,381.54 104.70,381.70 105.50,384.20 106.10,382.90 106.80,360.00 107.50,340.00 108.30,329.50 109.80,330.50 110.50,343.60 112.00,363.30 113.50,378.50 114.95,381.46 116.40,385.00 117.48,385.36 118.56,386.95 119.64,387.00 120.72,388.12 121.80,388.40 122.90,388.59 124.00,389.01 125.10,388.64 126.20,389.44 127.30,389.50 128.40,390.99 129.50,391.60 130.50,391.00 131.50,370.00 132.50,350.00 133.20,346.90 134.90,356.70 136.00,369.80 137.10,374.18 138.20,378.50 139.30,380.62 140.40,382.37 141.50,384.00 142.57,384.30 143.65,385.96 144.73,386.58 145.80,387.30 146.90,387.40 148.00,387.42 149.10,388.76 150.20,388.63 151.30,389.00 152.40,389.21 153.50,388.90 155.20,387.20 156.60,375.00 157.20,362.00 157.80,360.50 158.70,365.40 159.60,377.60 161.30,386.30 162.65,388.50 164.00,389.80 165.13,390.62 166.27,391.44 167.40,391.50 168.57,391.07 169.73,391.26 170.90,390.60 172.70,391.50 174.40,390.60 175.30,385.00 176.20,373.00 177.00,370.60 178.80,370.60 180.50,375.80 182.30,381.00 183.60,383.58 184.90,386.30 186.07,387.39 187.23,387.89 188.40,388.00 189.47,387.74 190.55,388.01 191.62,388.34 192.70,388.90 193.87,389.76 195.03,389.42 196.20,389.80 197.30,388.90 198.80,386.60 199.60,380.50 200.40,375.90 201.90,372.80 202.60,372.00 203.40,374.30 204.90,378.90 206.50,382.80 207.65,384.85 208.80,386.60 209.80,387.13 210.80,388.14 211.80,388.90 212.83,389.53 213.87,390.25 214.90,391.20 215.90,391.54 216.90,391.77 217.90,391.90 219.05,392.39 220.20,391.90 221.80,386.60 222.50,382.00 224.10,379.70 225.60,381.20 227.10,385.00 228.25,386.77 229.40,388.10 230.43,389.38 231.47,390.06 232.50,390.40 233.50,391.49 234.50,391.61 235.50,391.90 237.20,391.60 238.20,391.65 239.20,392.50 241.10,389.90 242.40,389.30 243.40,390.68 244.40,391.20 245.70,392.76 247.00,393.20 248.30,394.34 249.60,394.50 250.95,394.93 252.30,395.20 253.37,395.52 254.43,394.99 255.50,395.40 256.50,395.35 257.50,394.50 258.80,393.94 260.10,393.20 261.10,392.39 262.10,392.10 264.00,393.80 265.30,393.98 266.60,395.20 267.95,395.92 269.30,395.80 271.20,396.10" fill="none" stroke="#0a0a0a" stroke-width="1.6" stroke-linejoin="round" stroke-linecap="round"/>
<polyline points="327.40,369.20 328.50,369.56 329.60,368.67 330.70,369.23 331.80,368.80 332.90,368.80 334.20,368.62 335.50,368.88 336.80,369.20 338.10,369.54 339.40,369.74 340.70,369.50 341.70,369.24 342.70,369.90 343.70,369.54 344.70,370.10 346.20,370.70 347.00,373.10 347.60,378.00 348.20,378.60 349.60,376.00 351.50,374.10 352.50,372.80 353.50,371.10 354.50,367.20 354.90,359.30 355.50,349.50 356.10,339.70 356.90,331.80 358.00,323.90 359.40,320.00 360.20,315.00 361.70,310.40 362.40,305.90 363.20,301.30 364.00,296.70 364.40,290.60 365.00,285.20 366.00,282.60 366.60,285.20 367.50,289.80 368.60,291.30 370.50,291.30 372.40,289.80 373.55,289.10 374.70,288.70 375.70,288.54 376.70,288.13 377.70,287.20 379.00,286.00 380.30,284.80 381.90,286.70 383.80,288.30 384.95,289.50 386.10,289.80 387.13,290.30 388.17,290.75 389.20,291.80 390.35,292.04 391.50,292.10 393.00,293.90 394.45,295.28 395.90,297.50 397.35,298.23 398.80,299.50 399.80,301.87 400.80,304.40 401.80,306.45 402.80,308.30 404.25,309.49 405.70,311.30 406.70,311.46 407.70,312.78 408.70,312.86 409.70,313.60 411.00,314.68 412.30,315.29 413.60,315.60 414.90,316.02 416.20,316.63 417.50,317.20 418.50,316.72 419.50,316.20 421.40,316.80 422.40,316.93 423.40,316.89 424.40,316.80 425.70,317.49 427.00,318.17 428.30,318.70 429.30,319.60 430.30,319.71 431.30,320.14 432.30,320.70 433.60,321.83 434.90,322.33 436.20,323.50 437.65,324.27 439.10,325.40 440.10,327.43 441.10,328.60 442.10,330.97 443.10,333.30 444.55,335.59 446.00,337.80 447.00,339.33 448.00,341.66 449.00,343.70 450.30,345.07 451.60,345.87 452.90,347.60 454.12,348.35 455.35,349.02 456.57,349.15 457.80,350.20 458.90,350.46 460.00,350.50 461.23,350.99 462.45,351.71 463.67,351.94 464.90,352.60 466.12,352.94 467.35,353.11 468.57,352.62 469.80,353.20 471.02,353.35 472.25,354.46 473.48,355.27 474.70,355.40 475.93,355.70 477.15,356.41 478.38,357.06 479.60,357.50 480.83,357.74 482.05,358.18 483.27,358.53 484.50,359.10 485.50,358.98 486.50,359.19 487.50,358.92 488.50,358.99 489.50,359.10 490.73,359.60 491.95,359.17 493.17,359.91 494.40,360.10 495.62,360.49 496.85,360.28 498.07,360.38 499.30,360.80 500.52,361.22 501.75,360.86 502.98,360.97 504.20,361.40 505.43,361.59 506.65,362.08 507.88,361.79 509.10,362.40 510.33,362.44 511.55,362.65 512.77,363.30 514.00,363.20 515.23,363.27 516.45,363.77 517.67,363.28 518.90,363.70 520.00,363.72 521.10,364.17 522.20,364.55 523.30,364.32 524.40,364.29 525.50,364.70 526.58,364.46 527.67,364.93 528.75,364.72 529.83,365.38 530.92,365.50 532.00,365.30 533.23,365.12 534.45,365.30 535.67,365.88 536.90,365.70 538.12,365.98 539.35,366.28 540.57,366.01 541.80,366.30 543.00,370.00" fill="none" stroke="#0a0a0a" stroke-width="1.5" stroke-linejoin="round" stroke-linecap="round"/>
<rect x="327.9" y="248.3" width="214.70000000000005" height="160.09999999999997" fill="none" stroke="#606060" stroke-width="1"/>
<line x1="324.70" y1="408.40" x2="327.90" y2="408.40" stroke="#555" stroke-width="1"/>
<text transform="translate(305.83,412.10) scale(1.100,1)" font-size="11.7" font-family="'Liberation Sans', Arial, sans-serif" fill="#1a1a1a" stroke="#1a1a1a" stroke-width="0.27">0.0</text>
<line x1="326.10" y1="381.72" x2="327.90" y2="381.72" stroke="#555" stroke-width="1"/>
<line x1="324.70" y1="355.03" x2="327.90" y2="355.03" stroke="#555" stroke-width="1"/>
<text transform="translate(305.83,358.73) scale(1.100,1)" font-size="11.7" font-family="'Liberation Sans', Arial, sans-serif" fill="#1a1a1a" stroke="#1a1a1a" stroke-width="0.27">0.5</text>
<line x1="326.10" y1="328.35" x2="327.90" y2="328.35" stroke="#555" stroke-width="1"/>
<line x1="324.70" y1="301.67" x2="327.90" y2="301.67" stroke="#555" stroke-width="1"/>
<text transform="translate(305.83,305.37) scale(1.100,1)" font-size="11.7" font-family="'Liberation Sans', Arial, sans-serif" fill="#1a1a1a" stroke="#1a1a1a" stroke-width="0.27">1.0</text>
<line x1="326.10" y1="274.99" x2="327.90" y2="274.99" stroke="#555" stroke-width="1"/>
<line x1="324.70" y1="248.30" x2="327.90" y2="248.30" stroke="#555" stroke-width="1"/>
<text transform="translate(305.83,252.00) scale(1.100,1)" font-size="11.7" font-family="'Liberation Sans', Arial, sans-serif" fill="#1a1a1a" stroke="#1a1a1a" stroke-width="0.27">1.5</text>
<line x1="327.97" y1="408.40" x2="327.97" y2="410.20" stroke="#555" stroke-width="1"/>
<line x1="350.20" y1="408.40" x2="350.20" y2="411.60" stroke="#555" stroke-width="1"/>
<text transform="translate(335.85,424.40) scale(1.100,1)" font-size="11.7" font-family="'Liberation Sans', Arial, sans-serif" fill="#1a1a1a" stroke="#1a1a1a" stroke-width="0.27">2400</text>
<line x1="372.43" y1="408.40" x2="372.43" y2="410.20" stroke="#555" stroke-width="1"/>
<line x1="394.65" y1="408.40" x2="394.65" y2="411.60" stroke="#555" stroke-width="1"/>
<text transform="translate(380.30,424.40) scale(1.100,1)" font-size="11.7" font-family="'Liberation Sans', Arial, sans-serif" fill="#1a1a1a" stroke="#1a1a1a" stroke-width="0.27">2700</text>
<line x1="416.88" y1="408.40" x2="416.88" y2="410.20" stroke="#555" stroke-width="1"/>
<line x1="439.10" y1="408.40" x2="439.10" y2="411.60" stroke="#555" stroke-width="1"/>
<text transform="translate(424.82,424.40) scale(1.100,1)" font-size="11.7" font-family="'Liberation Sans', Arial, sans-serif" fill="#1a1a1a" stroke="#1a1a1a" stroke-width="0.27">3000</text>
<line x1="461.33" y1="408.40" x2="461.33" y2="410.20" stroke="#555" stroke-width="1"/>
<line x1="483.55" y1="408.40" x2="483.55" y2="411.60" stroke="#555" stroke-width="1"/>
<text transform="translate(469.27,424.40) scale(1.100,1)" font-size="11.7" font-family="'Liberation Sans', Arial, sans-serif" fill="#1a1a1a" stroke="#1a1a1a" stroke-width="0.27">3300</text>
<line x1="505.78" y1="408.40" x2="505.78" y2="410.20" stroke="#555" stroke-width="1"/>
<line x1="528.00" y1="408.40" x2="528.00" y2="411.60" stroke="#555" stroke-width="1"/>
<text transform="translate(513.72,424.40) scale(1.100,1)" font-size="11.7" font-family="'Liberation Sans', Arial, sans-serif" fill="#1a1a1a" stroke="#1a1a1a" stroke-width="0.27">3600</text>
<text transform="translate(407.96,447.50) scale(1.072,1)" font-size="16.0" font-family="'Liberation Sans', Arial, sans-serif" fill="#1a1a1a" stroke="#1a1a1a" stroke-width="0.28">Time (s)</text>
<g transform="translate(294.8,364.0) rotate(-90)"><text transform="scale(1.12,1)" font-size="15.8" fill="#1a1a1a" stroke="#1a1a1a" stroke-width="0.3" font-family="'Liberation Sans', Arial, sans-serif">I<tspan font-size="7" dy="5.5">ds</tspan><tspan dy="-5.5">(μA)</tspan></text></g>
<text transform="translate(459.80,266.80) scale(1.148,1)" font-size="10.8" font-family="'Liberation Sans', Arial, sans-serif" fill="#1a1a1a" stroke="#1a1a1a" stroke-width="0.26">Ag-1fg/mL</text>
<line x1="348.2" y1="367" x2="348.2" y2="408" stroke="#f03c3c" stroke-width="1" stroke-dasharray="1.3,2"/>
<line x1="366.7" y1="283" x2="366.7" y2="408" stroke="#f03c3c" stroke-width="1" stroke-dasharray="1.3,2"/>
<line x1="326.50" y1="394.20" x2="334.00" y2="394.20" stroke="#f59a9a" stroke-width="1"/>
<polygon points="332.9,389.8 344.7,394.2 332.9,398.6" fill="#f0282a"/>
<line x1="379.00" y1="394.20" x2="387.50" y2="394.20" stroke="#f59a9a" stroke-width="1"/>
<polygon points="379.7,389.8 368.3,394.2 379.7,398.6" fill="#f0282a"/>
<text transform="translate(387.95,392.20) scale(1.080,1)" font-size="12.0" font-family="'Liberation Sans', Arial, sans-serif" fill="#f0282a" stroke="#f0282a" stroke-width="0.28">~2 min</text>
</svg></body></html>
